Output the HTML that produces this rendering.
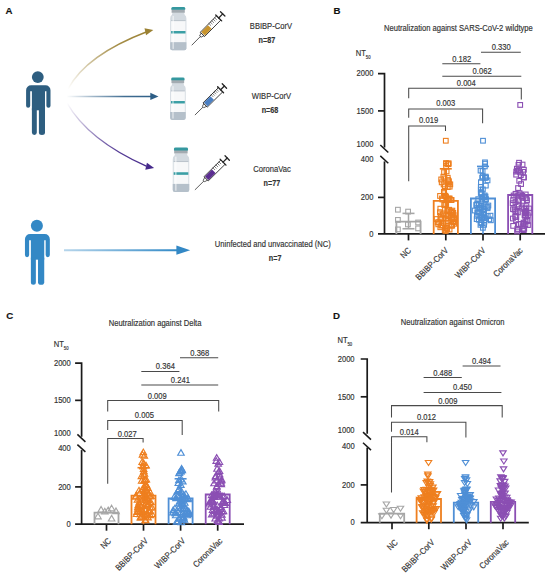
<!DOCTYPE html><html><head><meta charset="utf-8"><style>html,body{margin:0;padding:0;background:#fff;width:550px;height:576px;overflow:hidden}svg{display:block}text{font-family:"Liberation Sans",sans-serif;stroke:#444;stroke-width:0.16px;paint-order:stroke}</style></head><body>
<svg width="550" height="576" viewBox="0 0 550 576">
<rect width="550" height="576" fill="#ffffff"/>
<text transform="translate(5.40,14.40) scale(1,1.0)" font-size="9.7" text-anchor="start" font-weight="bold" fill="#111" >A</text>
<g fill="#2e5e80" transform="translate(38.3,71.3) scale(1.0)">
<circle cx="-0.5" cy="5.8" r="5.9"/>
<path d="M-12.2,22.6 V5 A5,5 0 0 1 -7.2,0 H7.2 A5,5 0 0 1 12.2,5 V20.6 A2.05,2.05 0 0 1 8.1,20.6 V6.0 H-8.1 V20.6 A2.05,2.05 0 0 1 -12.2,20.6 Z" transform="translate(0,13.9)"/>
<rect x="-6.4" y="15" width="13.1" height="24"/>
<path d="M-6.4,37 H-1.5 V61.2 A2.45,2.45 0 0 1 -6.4,61.2 Z"/>
<path d="M0.6,37 H6.7 V61.2 A3.05,2.5 0 0 1 0.6,61.2 Z"/>
</g>
<g fill="#3388c5" transform="translate(37.4,219.9) scale(1.02)">
<circle cx="-0.5" cy="5.8" r="5.9"/>
<path d="M-12.2,22.6 V5 A5,5 0 0 1 -7.2,0 H7.2 A5,5 0 0 1 12.2,5 V20.6 A2.05,2.05 0 0 1 8.1,20.6 V6.0 H-8.1 V20.6 A2.05,2.05 0 0 1 -12.2,20.6 Z" transform="translate(0,13.9)"/>
<rect x="-6.4" y="15" width="13.1" height="24"/>
<path d="M-6.4,37 H-1.5 V61.2 A2.45,2.45 0 0 1 -6.4,61.2 Z"/>
<path d="M0.6,37 H6.7 V61.2 A3.05,2.5 0 0 1 0.6,61.2 Z"/>
</g>
<defs><linearGradient id="g1" gradientUnits="userSpaceOnUse" x1="68" y1="89" x2="150" y2="30"><stop offset="0" stop-color="#9b8133" stop-opacity="0"/><stop offset="0.3" stop-color="#9b8133" stop-opacity="0.45"/><stop offset="0.65" stop-color="#9b8133" stop-opacity="0.9"/><stop offset="1" stop-color="#9b8133" stop-opacity="1"/></linearGradient></defs>
<path d="M68,89 Q86,55 146.8,31.7" stroke="url(#g1)" stroke-width="1.45" fill="none"/>
<path transform="translate(153.3,30.1) rotate(-12)" d="M0,0 L-8.2,-3.6 L-8.2,3.6 Z" fill="#9b8133"/>
<defs><linearGradient id="g2" gradientUnits="userSpaceOnUse" x1="66.5" y1="96" x2="155" y2="96"><stop offset="0" stop-color="#2d5e86" stop-opacity="0"/><stop offset="0.3" stop-color="#2d5e86" stop-opacity="0.45"/><stop offset="0.65" stop-color="#2d5e86" stop-opacity="0.9"/><stop offset="1" stop-color="#2d5e86" stop-opacity="1"/></linearGradient></defs>
<path d="M66.5,96.4 L151,96.4" stroke="url(#g2)" stroke-width="1.45" fill="none"/>
<path transform="translate(158.5,96.4) rotate(0)" d="M0,0 L-8.2,-3.6 L-8.2,3.6 Z" fill="#2d5e86"/>
<defs><linearGradient id="g3" gradientUnits="userSpaceOnUse" x1="67" y1="103" x2="152" y2="167"><stop offset="0" stop-color="#45298b" stop-opacity="0"/><stop offset="0.3" stop-color="#45298b" stop-opacity="0.45"/><stop offset="0.65" stop-color="#45298b" stop-opacity="0.9"/><stop offset="1" stop-color="#45298b" stop-opacity="1"/></linearGradient></defs>
<path d="M67,103 Q88,140 146.3,166.2" stroke="url(#g3)" stroke-width="1.45" fill="none"/>
<path transform="translate(154.1,168) rotate(13)" d="M0,0 L-8.2,-3.6 L-8.2,3.6 Z" fill="#45298b"/>
<defs><linearGradient id="g4" gradientUnits="userSpaceOnUse" x1="64" y1="0" x2="180" y2="0"><stop offset="0" stop-color="#2f88c6" stop-opacity="0.35"/><stop offset="1" stop-color="#2f88c6"/></linearGradient></defs>
<path d="M64,250.2 H178" stroke="url(#g4)" stroke-width="1.9" fill="none"/>
<path transform="translate(190.2,250.2) rotate(0)" d="M0,0 L-13.8,-4.6 L-13.8,4.6 Z" fill="#3388c5"/>
<g transform="translate(170.2,6.9) scale(1.0,1.0)">
<path d="M2.3,5.8 H13.9 L14.6,8.2 Q16.2,9.2 16.2,11.5 V41.3 Q16.2,43.35 14.2,43.35 H2 Q0,43.35 0,41.3 V11.5 Q0,9.2 1.6,8.2 Z" fill="#d3dae0"/>
<rect x="1.4" y="2.3" width="13.2" height="3.6" fill="#a3abb1"/>
<path d="M1.2,2.9 V1.4 Q1.2,0 2.8,0 H13.4 Q15,0 15,1.4 V2.9 Z" fill="#35989f"/>
<rect x="0.9" y="14.1" width="14.4" height="21.2" fill="#f7f8f9"/>
<rect x="0.9" y="13.3" width="14.4" height="0.9" fill="#b9c2ca"/>
<rect x="0.9" y="24.1" width="14.4" height="2.5" fill="#3b9fa5"/>
<path d="M0,35.4 H16.2 V41.3 Q16.2,43.35 14.2,43.35 H2 Q0,43.35 0,41.3 Z" fill="#b5c0ca"/>
<rect x="2.2" y="9" width="1.6" height="33" fill="#ffffff" opacity="0.5"/>
</g>
<g transform="translate(192,45) rotate(-45.37)" stroke="#262626" stroke-width="0.85" fill="none" stroke-linecap="round">
<line x1="0" y1="0" x2="12.24" y2="0" stroke-width="0.7"/>
<path d="M12.24,-1.1 L15.30,-2.0 L15.30,2.0 L12.24,1.1 Z" fill="#ffffff" stroke-width="0.7"/>
<rect x="15.30" y="-3.0" width="22.72" height="6.0" fill="#ffffff"/>
<rect x="15.80" y="-2.5" width="9.54" height="5.0" fill="#c9942c" stroke="none"/>
<line x1="27.11" y1="-3.0" x2="27.11" y2="-0.4" stroke-width="0.55"/>
<line x1="29.16" y1="-3.0" x2="29.16" y2="-0.4" stroke-width="0.55"/>
<line x1="31.20" y1="-3.0" x2="31.20" y2="-0.4" stroke-width="0.55"/>
<line x1="33.25" y1="-3.0" x2="33.25" y2="-0.4" stroke-width="0.55"/>
<line x1="35.29" y1="-3.0" x2="35.29" y2="-0.4" stroke-width="0.55"/>
<line x1="38.02" y1="-4.2" x2="38.02" y2="4.2" stroke-width="1.3"/>
<line x1="38.02" y1="0" x2="43.70" y2="0" stroke-width="1.3"/>
<line x1="43.70" y1="-3.1" x2="43.70" y2="3.1" stroke-width="1.3"/>
</g>
<g transform="translate(170.1,77.4) scale(0.963,0.98)">
<path d="M2.3,5.8 H13.9 L14.6,8.2 Q16.2,9.2 16.2,11.5 V41.3 Q16.2,43.35 14.2,43.35 H2 Q0,43.35 0,41.3 V11.5 Q0,9.2 1.6,8.2 Z" fill="#d3dae0"/>
<rect x="1.4" y="2.3" width="13.2" height="3.6" fill="#a3abb1"/>
<path d="M1.2,2.9 V1.4 Q1.2,0 2.8,0 H13.4 Q15,0 15,1.4 V2.9 Z" fill="#35989f"/>
<rect x="0.9" y="14.1" width="14.4" height="21.2" fill="#f7f8f9"/>
<rect x="0.9" y="13.3" width="14.4" height="0.9" fill="#b9c2ca"/>
<rect x="0.9" y="24.1" width="14.4" height="2.5" fill="#3b9fa5"/>
<path d="M0,35.4 H16.2 V41.3 Q16.2,43.35 14.2,43.35 H2 Q0,43.35 0,41.3 Z" fill="#b5c0ca"/>
<rect x="2.2" y="9" width="1.6" height="33" fill="#ffffff" opacity="0.5"/>
</g>
<g transform="translate(195.2,114.8) rotate(-44.60)" stroke="#262626" stroke-width="0.85" fill="none" stroke-linecap="round">
<line x1="0" y1="0" x2="11.48" y2="0" stroke-width="0.7"/>
<path d="M11.48,-1.1 L14.35,-2.0 L14.35,2.0 L11.48,1.1 Z" fill="#ffffff" stroke-width="0.7"/>
<rect x="14.35" y="-3.0" width="21.33" height="6.0" fill="#ffffff"/>
<rect x="14.85" y="-2.5" width="8.96" height="5.0" fill="#4b7fc2" stroke="none"/>
<line x1="25.44" y1="-3.0" x2="25.44" y2="-0.4" stroke-width="0.55"/>
<line x1="27.36" y1="-3.0" x2="27.36" y2="-0.4" stroke-width="0.55"/>
<line x1="29.28" y1="-3.0" x2="29.28" y2="-0.4" stroke-width="0.55"/>
<line x1="31.20" y1="-3.0" x2="31.20" y2="-0.4" stroke-width="0.55"/>
<line x1="33.12" y1="-3.0" x2="33.12" y2="-0.4" stroke-width="0.55"/>
<line x1="35.68" y1="-4.2" x2="35.68" y2="4.2" stroke-width="1.3"/>
<line x1="35.68" y1="0" x2="41.01" y2="0" stroke-width="1.3"/>
<line x1="41.01" y1="-3.1" x2="41.01" y2="3.1" stroke-width="1.3"/>
</g>
<g transform="translate(172.75,147.4) scale(1.018,1.031)">
<path d="M2.3,5.8 H13.9 L14.6,8.2 Q16.2,9.2 16.2,11.5 V41.3 Q16.2,43.35 14.2,43.35 H2 Q0,43.35 0,41.3 V11.5 Q0,9.2 1.6,8.2 Z" fill="#d3dae0"/>
<rect x="1.4" y="2.3" width="13.2" height="3.6" fill="#a3abb1"/>
<path d="M1.2,2.9 V1.4 Q1.2,0 2.8,0 H13.4 Q15,0 15,1.4 V2.9 Z" fill="#35989f"/>
<rect x="0.9" y="14.1" width="14.4" height="21.2" fill="#f7f8f9"/>
<rect x="0.9" y="13.3" width="14.4" height="0.9" fill="#b9c2ca"/>
<rect x="0.9" y="24.1" width="14.4" height="2.5" fill="#3b9fa5"/>
<path d="M0,35.4 H16.2 V41.3 Q16.2,43.35 14.2,43.35 H2 Q0,43.35 0,41.3 Z" fill="#b5c0ca"/>
<rect x="2.2" y="9" width="1.6" height="33" fill="#ffffff" opacity="0.5"/>
</g>
<g transform="translate(195.2,189.6) rotate(-44.64)" stroke="#262626" stroke-width="0.85" fill="none" stroke-linecap="round">
<line x1="0" y1="0" x2="12.59" y2="0" stroke-width="0.7"/>
<path d="M12.59,-1.1 L15.74,-2.0 L15.74,2.0 L12.59,1.1 Z" fill="#ffffff" stroke-width="0.7"/>
<rect x="15.74" y="-3.0" width="23.39" height="6.0" fill="#ffffff"/>
<rect x="16.24" y="-2.5" width="9.82" height="5.0" fill="#5b2d90" stroke="none"/>
<line x1="27.90" y1="-3.0" x2="27.90" y2="-0.4" stroke-width="0.55"/>
<line x1="30.01" y1="-3.0" x2="30.01" y2="-0.4" stroke-width="0.55"/>
<line x1="32.11" y1="-3.0" x2="32.11" y2="-0.4" stroke-width="0.55"/>
<line x1="34.22" y1="-3.0" x2="34.22" y2="-0.4" stroke-width="0.55"/>
<line x1="36.32" y1="-3.0" x2="36.32" y2="-0.4" stroke-width="0.55"/>
<line x1="39.13" y1="-4.2" x2="39.13" y2="4.2" stroke-width="1.3"/>
<line x1="39.13" y1="0" x2="44.97" y2="0" stroke-width="1.3"/>
<line x1="44.97" y1="-3.1" x2="44.97" y2="3.1" stroke-width="1.3"/>
</g>
<text transform="translate(270.90,29.00) scale(1,1.15)" font-size="7.6" text-anchor="middle" font-weight="normal" fill="#333333" >BBIBP-CorV</text>
<text transform="translate(266.90,43.20) scale(1,1.15)" font-size="7.2" text-anchor="middle" font-weight="bold" fill="#333333" >n=87</text>
<text transform="translate(271.40,98.70) scale(1,1.15)" font-size="7.6" text-anchor="middle" font-weight="normal" fill="#333333" >WIBP-CorV</text>
<text transform="translate(270.00,113.20) scale(1,1.15)" font-size="7.2" text-anchor="middle" font-weight="bold" fill="#333333" >n=68</text>
<text transform="translate(272.00,172.00) scale(1,1.15)" font-size="7.6" text-anchor="middle" font-weight="normal" fill="#333333" >CoronaVac</text>
<text transform="translate(271.90,186.20) scale(1,1.15)" font-size="7.2" text-anchor="middle" font-weight="bold" fill="#333333" >n=77</text>
<text transform="translate(272.80,247.30) scale(1,1.15)" font-size="7.6" text-anchor="middle" font-weight="normal" fill="#333333" >Uninfected and unvaccinated (NC)</text>
<text transform="translate(275.10,260.50) scale(1,1.15)" font-size="7.2" text-anchor="middle" font-weight="bold" fill="#333333" >n=7</text>
<text transform="translate(333.40,14.40) scale(1,1.0)" font-size="9.7" text-anchor="start" font-weight="bold" fill="#111" >B</text>
<text transform="translate(384.00,30.80) scale(1,1.15)" font-size="7.6" text-anchor="start" font-weight="normal" fill="#333333" >Neutralization against SARS-CoV-2 wildtype</text>
<text transform="translate(355.7,56.2) scale(1,1.15)" font-size="7.6" fill="#333333">NT<tspan font-size="4.2" dy="2.6">50</tspan></text>
<path d="M378.00,73.60 H384.50 V147.40" stroke="#1a1a1a" stroke-width="1.7" fill="none"/>
<line x1="378.00" y1="110.90" x2="384.50" y2="110.90" stroke="#1a1a1a" stroke-width="1.7" />
<line x1="384.50" y1="161.40" x2="384.50" y2="233.90" stroke="#1a1a1a" stroke-width="1.7" />
<line x1="380.30" y1="145.00" x2="388.30" y2="152.50" stroke="#1a1a1a" stroke-width="1.5" />
<line x1="380.30" y1="155.90" x2="388.30" y2="163.20" stroke="#1a1a1a" stroke-width="1.5" />
<line x1="378.00" y1="197.40" x2="384.50" y2="197.40" stroke="#1a1a1a" stroke-width="1.7" />
<line x1="378.00" y1="233.90" x2="545.00" y2="233.90" stroke="#1a1a1a" stroke-width="1.7" />
<line x1="408.50" y1="233.90" x2="408.50" y2="240.40" stroke="#1a1a1a" stroke-width="1.7" />
<line x1="445.80" y1="233.90" x2="445.80" y2="240.40" stroke="#1a1a1a" stroke-width="1.7" />
<line x1="483.00" y1="233.90" x2="483.00" y2="240.40" stroke="#1a1a1a" stroke-width="1.7" />
<line x1="520.20" y1="233.90" x2="520.20" y2="240.40" stroke="#1a1a1a" stroke-width="1.7" />
<text transform="translate(373.50,76.30) scale(1,1.15)" font-size="7.6" text-anchor="end" fill="#333333">2000</text>
<text transform="translate(373.50,113.60) scale(1,1.15)" font-size="7.6" text-anchor="end" fill="#333333">1500</text>
<text transform="translate(373.50,146.70) scale(1,1.15)" font-size="7.6" text-anchor="end" fill="#333333">1000</text>
<text transform="translate(373.50,162.40) scale(1,1.15)" font-size="7.6" text-anchor="end" fill="#333333">400</text>
<text transform="translate(373.50,200.10) scale(1,1.15)" font-size="7.6" text-anchor="end" fill="#333333">200</text>
<text transform="translate(373.50,236.60) scale(1,1.15)" font-size="7.6" text-anchor="end" fill="#333333">0</text>
<text transform="translate(411.60,251.00) rotate(-45) scale(1,1.15)" font-size="7.6" text-anchor="end" fill="#333333">NC</text>
<text transform="translate(448.90,251.00) rotate(-45) scale(1,1.15)" font-size="7.6" text-anchor="end" fill="#333333">BBIBP-CorV</text>
<text transform="translate(486.10,251.00) rotate(-45) scale(1,1.15)" font-size="7.6" text-anchor="end" fill="#333333">WIBP-CorV</text>
<text transform="translate(523.30,251.00) rotate(-45) scale(1,1.15)" font-size="7.6" text-anchor="end" fill="#333333">CoronaVac</text>
<path d="M481.00,52.30 H520.80" stroke="#4a4a4a" stroke-width="1.05" fill="none"/>
<text transform="translate(501.20,50.30) scale(1,1.15)" font-size="7.6" text-anchor="middle" fill="#333333">0.330</text>
<path d="M442.30,63.70 H480.40" stroke="#4a4a4a" stroke-width="1.05" fill="none"/>
<text transform="translate(461.75,61.70) scale(1,1.15)" font-size="7.6" text-anchor="middle" fill="#333333">0.182</text>
<path d="M442.30,76.30 H521.30" stroke="#4a4a4a" stroke-width="1.05" fill="none"/>
<text transform="translate(482.10,74.30) scale(1,1.15)" font-size="7.6" text-anchor="middle" fill="#333333">0.062</text>
<path d="M408.70,98.20 V88.20 H521.30 V99.40" stroke="#4a4a4a" stroke-width="1.05" fill="none"/>
<text transform="translate(466.30,86.20) scale(1,1.15)" font-size="7.6" text-anchor="middle" fill="#333333">0.004</text>
<path d="M408.70,117.70 V109.00 H482.60 V123.20" stroke="#4a4a4a" stroke-width="1.05" fill="none"/>
<text transform="translate(445.65,105.70) scale(1,1.15)" font-size="7.6" text-anchor="middle" fill="#333333">0.003</text>
<path d="M408.70,181.30 V125.90 H445.50 V130.90" stroke="#4a4a4a" stroke-width="1.05" fill="none"/>
<text transform="translate(428.60,122.90) scale(1,1.15)" font-size="7.6" text-anchor="middle" fill="#333333">0.019</text>
<rect x="395.55" y="207.35" width="4.70" height="4.70" fill="none" stroke="#a6a6a6" stroke-width="1.1"/>
<rect x="405.75" y="209.25" width="4.70" height="4.70" fill="none" stroke="#a6a6a6" stroke-width="1.1"/>
<rect x="395.55" y="217.55" width="4.70" height="4.70" fill="none" stroke="#a6a6a6" stroke-width="1.1"/>
<rect x="405.55" y="222.05" width="4.70" height="4.70" fill="none" stroke="#a6a6a6" stroke-width="1.1"/>
<rect x="415.75" y="220.15" width="4.70" height="4.70" fill="none" stroke="#a6a6a6" stroke-width="1.1"/>
<rect x="415.75" y="226.05" width="4.70" height="4.70" fill="none" stroke="#a6a6a6" stroke-width="1.1"/>
<rect x="395.55" y="227.05" width="4.70" height="4.70" fill="none" stroke="#a6a6a6" stroke-width="1.1"/>
<path d="M396.40,233.90 V221.60 H420.60 V233.90" stroke="#a6a6a6" stroke-width="1.8" fill="none"/>
<path d="M408.50,228.75 V213.40" stroke="#a6a6a6" stroke-width="1.5" fill="none"/>
<line x1="402.50" y1="213.40" x2="414.50" y2="213.40" stroke="#a6a6a6" stroke-width="1.6" />
<line x1="402.50" y1="228.75" x2="414.50" y2="228.75" stroke="#a6a6a6" stroke-width="1.6" />
<rect x="443.41" y="228.50" width="4.70" height="4.70" fill="none" stroke="#ee7f1f" stroke-width="1.1"/>
<rect x="442.37" y="228.04" width="4.70" height="4.70" fill="none" stroke="#ee7f1f" stroke-width="1.1"/>
<rect x="447.24" y="227.22" width="4.70" height="4.70" fill="none" stroke="#ee7f1f" stroke-width="1.1"/>
<rect x="444.88" y="226.81" width="4.70" height="4.70" fill="none" stroke="#ee7f1f" stroke-width="1.1"/>
<rect x="444.43" y="226.00" width="4.70" height="4.70" fill="none" stroke="#ee7f1f" stroke-width="1.1"/>
<rect x="444.08" y="225.58" width="4.70" height="4.70" fill="none" stroke="#ee7f1f" stroke-width="1.1"/>
<rect x="437.94" y="224.92" width="4.70" height="4.70" fill="none" stroke="#ee7f1f" stroke-width="1.1"/>
<rect x="449.13" y="223.34" width="4.70" height="4.70" fill="none" stroke="#ee7f1f" stroke-width="1.1"/>
<rect x="439.11" y="223.30" width="4.70" height="4.70" fill="none" stroke="#ee7f1f" stroke-width="1.1"/>
<rect x="449.85" y="223.25" width="4.70" height="4.70" fill="none" stroke="#ee7f1f" stroke-width="1.1"/>
<rect x="438.99" y="222.89" width="4.70" height="4.70" fill="none" stroke="#ee7f1f" stroke-width="1.1"/>
<rect x="448.99" y="222.28" width="4.70" height="4.70" fill="none" stroke="#ee7f1f" stroke-width="1.1"/>
<rect x="435.92" y="221.97" width="4.70" height="4.70" fill="none" stroke="#ee7f1f" stroke-width="1.1"/>
<rect x="451.70" y="221.44" width="4.70" height="4.70" fill="none" stroke="#ee7f1f" stroke-width="1.1"/>
<rect x="440.50" y="220.67" width="4.70" height="4.70" fill="none" stroke="#ee7f1f" stroke-width="1.1"/>
<rect x="443.40" y="220.28" width="4.70" height="4.70" fill="none" stroke="#ee7f1f" stroke-width="1.1"/>
<rect x="435.37" y="219.95" width="4.70" height="4.70" fill="none" stroke="#ee7f1f" stroke-width="1.1"/>
<rect x="436.86" y="219.73" width="4.70" height="4.70" fill="none" stroke="#ee7f1f" stroke-width="1.1"/>
<rect x="450.71" y="219.69" width="4.70" height="4.70" fill="none" stroke="#ee7f1f" stroke-width="1.1"/>
<rect x="451.32" y="219.47" width="4.70" height="4.70" fill="none" stroke="#ee7f1f" stroke-width="1.1"/>
<rect x="445.05" y="218.74" width="4.70" height="4.70" fill="none" stroke="#ee7f1f" stroke-width="1.1"/>
<rect x="450.24" y="216.75" width="4.70" height="4.70" fill="none" stroke="#ee7f1f" stroke-width="1.1"/>
<rect x="434.19" y="216.67" width="4.70" height="4.70" fill="none" stroke="#ee7f1f" stroke-width="1.1"/>
<rect x="438.81" y="216.65" width="4.70" height="4.70" fill="none" stroke="#ee7f1f" stroke-width="1.1"/>
<rect x="443.74" y="216.36" width="4.70" height="4.70" fill="none" stroke="#ee7f1f" stroke-width="1.1"/>
<rect x="451.88" y="215.91" width="4.70" height="4.70" fill="none" stroke="#ee7f1f" stroke-width="1.1"/>
<rect x="437.93" y="215.89" width="4.70" height="4.70" fill="none" stroke="#ee7f1f" stroke-width="1.1"/>
<rect x="451.08" y="215.81" width="4.70" height="4.70" fill="none" stroke="#ee7f1f" stroke-width="1.1"/>
<rect x="448.57" y="215.74" width="4.70" height="4.70" fill="none" stroke="#ee7f1f" stroke-width="1.1"/>
<rect x="449.74" y="214.79" width="4.70" height="4.70" fill="none" stroke="#ee7f1f" stroke-width="1.1"/>
<rect x="447.05" y="213.53" width="4.70" height="4.70" fill="none" stroke="#ee7f1f" stroke-width="1.1"/>
<rect x="445.73" y="213.26" width="4.70" height="4.70" fill="none" stroke="#ee7f1f" stroke-width="1.1"/>
<rect x="438.54" y="213.17" width="4.70" height="4.70" fill="none" stroke="#ee7f1f" stroke-width="1.1"/>
<rect x="443.87" y="213.11" width="4.70" height="4.70" fill="none" stroke="#ee7f1f" stroke-width="1.1"/>
<rect x="451.25" y="212.71" width="4.70" height="4.70" fill="none" stroke="#ee7f1f" stroke-width="1.1"/>
<rect x="440.29" y="212.12" width="4.70" height="4.70" fill="none" stroke="#ee7f1f" stroke-width="1.1"/>
<rect x="441.11" y="211.01" width="4.70" height="4.70" fill="none" stroke="#ee7f1f" stroke-width="1.1"/>
<rect x="450.94" y="210.56" width="4.70" height="4.70" fill="none" stroke="#ee7f1f" stroke-width="1.1"/>
<rect x="449.75" y="209.92" width="4.70" height="4.70" fill="none" stroke="#ee7f1f" stroke-width="1.1"/>
<rect x="437.59" y="209.80" width="4.70" height="4.70" fill="none" stroke="#ee7f1f" stroke-width="1.1"/>
<rect x="448.23" y="209.51" width="4.70" height="4.70" fill="none" stroke="#ee7f1f" stroke-width="1.1"/>
<rect x="448.79" y="209.37" width="4.70" height="4.70" fill="none" stroke="#ee7f1f" stroke-width="1.1"/>
<rect x="450.03" y="208.25" width="4.70" height="4.70" fill="none" stroke="#ee7f1f" stroke-width="1.1"/>
<rect x="444.89" y="208.16" width="4.70" height="4.70" fill="none" stroke="#ee7f1f" stroke-width="1.1"/>
<rect x="446.88" y="207.84" width="4.70" height="4.70" fill="none" stroke="#ee7f1f" stroke-width="1.1"/>
<rect x="446.79" y="207.40" width="4.70" height="4.70" fill="none" stroke="#ee7f1f" stroke-width="1.1"/>
<rect x="437.96" y="206.32" width="4.70" height="4.70" fill="none" stroke="#ee7f1f" stroke-width="1.1"/>
<rect x="441.84" y="202.58" width="4.70" height="4.70" fill="none" stroke="#ee7f1f" stroke-width="1.1"/>
<rect x="442.86" y="202.39" width="4.70" height="4.70" fill="none" stroke="#ee7f1f" stroke-width="1.1"/>
<rect x="443.85" y="201.68" width="4.70" height="4.70" fill="none" stroke="#ee7f1f" stroke-width="1.1"/>
<rect x="448.73" y="197.75" width="4.70" height="4.70" fill="none" stroke="#ee7f1f" stroke-width="1.1"/>
<rect x="449.26" y="197.63" width="4.70" height="4.70" fill="none" stroke="#ee7f1f" stroke-width="1.1"/>
<rect x="440.09" y="197.18" width="4.70" height="4.70" fill="none" stroke="#ee7f1f" stroke-width="1.1"/>
<rect x="446.04" y="196.82" width="4.70" height="4.70" fill="none" stroke="#ee7f1f" stroke-width="1.1"/>
<rect x="447.09" y="196.50" width="4.70" height="4.70" fill="none" stroke="#ee7f1f" stroke-width="1.1"/>
<rect x="445.89" y="196.34" width="4.70" height="4.70" fill="none" stroke="#ee7f1f" stroke-width="1.1"/>
<rect x="439.62" y="196.12" width="4.70" height="4.70" fill="none" stroke="#ee7f1f" stroke-width="1.1"/>
<rect x="447.18" y="196.04" width="4.70" height="4.70" fill="none" stroke="#ee7f1f" stroke-width="1.1"/>
<rect x="443.64" y="194.37" width="4.70" height="4.70" fill="none" stroke="#ee7f1f" stroke-width="1.1"/>
<rect x="437.68" y="193.58" width="4.70" height="4.70" fill="none" stroke="#ee7f1f" stroke-width="1.1"/>
<rect x="443.01" y="193.42" width="4.70" height="4.70" fill="none" stroke="#ee7f1f" stroke-width="1.1"/>
<rect x="442.08" y="193.33" width="4.70" height="4.70" fill="none" stroke="#ee7f1f" stroke-width="1.1"/>
<rect x="441.64" y="190.82" width="4.70" height="4.70" fill="none" stroke="#ee7f1f" stroke-width="1.1"/>
<rect x="441.80" y="189.77" width="4.70" height="4.70" fill="none" stroke="#ee7f1f" stroke-width="1.1"/>
<rect x="441.54" y="189.47" width="4.70" height="4.70" fill="none" stroke="#ee7f1f" stroke-width="1.1"/>
<rect x="445.43" y="184.73" width="4.70" height="4.70" fill="none" stroke="#ee7f1f" stroke-width="1.1"/>
<rect x="447.35" y="184.32" width="4.70" height="4.70" fill="none" stroke="#ee7f1f" stroke-width="1.1"/>
<rect x="442.42" y="183.80" width="4.70" height="4.70" fill="none" stroke="#ee7f1f" stroke-width="1.1"/>
<rect x="441.27" y="182.13" width="4.70" height="4.70" fill="none" stroke="#ee7f1f" stroke-width="1.1"/>
<rect x="447.93" y="181.97" width="4.70" height="4.70" fill="none" stroke="#ee7f1f" stroke-width="1.1"/>
<rect x="446.39" y="181.30" width="4.70" height="4.70" fill="none" stroke="#ee7f1f" stroke-width="1.1"/>
<rect x="439.35" y="180.02" width="4.70" height="4.70" fill="none" stroke="#ee7f1f" stroke-width="1.1"/>
<rect x="446.61" y="178.87" width="4.70" height="4.70" fill="none" stroke="#ee7f1f" stroke-width="1.1"/>
<rect x="445.80" y="177.68" width="4.70" height="4.70" fill="none" stroke="#ee7f1f" stroke-width="1.1"/>
<rect x="438.84" y="177.07" width="4.70" height="4.70" fill="none" stroke="#ee7f1f" stroke-width="1.1"/>
<rect x="442.15" y="176.04" width="4.70" height="4.70" fill="none" stroke="#ee7f1f" stroke-width="1.1"/>
<rect x="445.40" y="175.40" width="4.70" height="4.70" fill="none" stroke="#ee7f1f" stroke-width="1.1"/>
<rect x="441.02" y="174.32" width="4.70" height="4.70" fill="none" stroke="#ee7f1f" stroke-width="1.1"/>
<rect x="441.70" y="169.84" width="4.70" height="4.70" fill="none" stroke="#ee7f1f" stroke-width="1.1"/>
<rect x="444.27" y="169.08" width="4.70" height="4.70" fill="none" stroke="#ee7f1f" stroke-width="1.1"/>
<rect x="443.77" y="163.69" width="4.70" height="4.70" fill="none" stroke="#ee7f1f" stroke-width="1.1"/>
<rect x="446.19" y="161.84" width="4.70" height="4.70" fill="none" stroke="#ee7f1f" stroke-width="1.1"/>
<rect x="445.77" y="161.73" width="4.70" height="4.70" fill="none" stroke="#ee7f1f" stroke-width="1.1"/>
<rect x="443.83" y="161.29" width="4.70" height="4.70" fill="none" stroke="#ee7f1f" stroke-width="1.1"/>
<rect x="446.28" y="160.88" width="4.70" height="4.70" fill="none" stroke="#ee7f1f" stroke-width="1.1"/>
<rect x="443.64" y="160.74" width="4.70" height="4.70" fill="none" stroke="#ee7f1f" stroke-width="1.1"/>
<rect x="443.45" y="138.39" width="4.70" height="4.70" fill="none" stroke="#ee7f1f" stroke-width="1.1"/>
<path d="M433.70,233.90 V200.80 H457.90 V233.90" stroke="#ee7f1f" stroke-width="1.8" fill="none"/>
<path d="M445.80,233.90 V168.80" stroke="#ee7f1f" stroke-width="1.5" fill="none"/>
<line x1="439.80" y1="168.80" x2="451.80" y2="168.80" stroke="#ee7f1f" stroke-width="1.6" />
<rect x="480.54" y="225.45" width="4.70" height="4.70" fill="none" stroke="#4f8fd6" stroke-width="1.1"/>
<rect x="481.77" y="222.47" width="4.70" height="4.70" fill="none" stroke="#4f8fd6" stroke-width="1.1"/>
<rect x="478.11" y="222.46" width="4.70" height="4.70" fill="none" stroke="#4f8fd6" stroke-width="1.1"/>
<rect x="478.92" y="220.88" width="4.70" height="4.70" fill="none" stroke="#4f8fd6" stroke-width="1.1"/>
<rect x="478.99" y="219.96" width="4.70" height="4.70" fill="none" stroke="#4f8fd6" stroke-width="1.1"/>
<rect x="482.04" y="219.32" width="4.70" height="4.70" fill="none" stroke="#4f8fd6" stroke-width="1.1"/>
<rect x="488.48" y="217.95" width="4.70" height="4.70" fill="none" stroke="#4f8fd6" stroke-width="1.1"/>
<rect x="476.45" y="217.38" width="4.70" height="4.70" fill="none" stroke="#4f8fd6" stroke-width="1.1"/>
<rect x="486.79" y="217.00" width="4.70" height="4.70" fill="none" stroke="#4f8fd6" stroke-width="1.1"/>
<rect x="474.33" y="216.79" width="4.70" height="4.70" fill="none" stroke="#4f8fd6" stroke-width="1.1"/>
<rect x="482.64" y="215.85" width="4.70" height="4.70" fill="none" stroke="#4f8fd6" stroke-width="1.1"/>
<rect x="481.43" y="215.81" width="4.70" height="4.70" fill="none" stroke="#4f8fd6" stroke-width="1.1"/>
<rect x="479.76" y="215.62" width="4.70" height="4.70" fill="none" stroke="#4f8fd6" stroke-width="1.1"/>
<rect x="480.22" y="215.37" width="4.70" height="4.70" fill="none" stroke="#4f8fd6" stroke-width="1.1"/>
<rect x="478.07" y="214.55" width="4.70" height="4.70" fill="none" stroke="#4f8fd6" stroke-width="1.1"/>
<rect x="485.36" y="213.67" width="4.70" height="4.70" fill="none" stroke="#4f8fd6" stroke-width="1.1"/>
<rect x="474.55" y="213.44" width="4.70" height="4.70" fill="none" stroke="#4f8fd6" stroke-width="1.1"/>
<rect x="488.15" y="213.34" width="4.70" height="4.70" fill="none" stroke="#4f8fd6" stroke-width="1.1"/>
<rect x="478.96" y="213.10" width="4.70" height="4.70" fill="none" stroke="#4f8fd6" stroke-width="1.1"/>
<rect x="481.54" y="212.54" width="4.70" height="4.70" fill="none" stroke="#4f8fd6" stroke-width="1.1"/>
<rect x="481.59" y="211.72" width="4.70" height="4.70" fill="none" stroke="#4f8fd6" stroke-width="1.1"/>
<rect x="475.12" y="210.41" width="4.70" height="4.70" fill="none" stroke="#4f8fd6" stroke-width="1.1"/>
<rect x="475.97" y="209.82" width="4.70" height="4.70" fill="none" stroke="#4f8fd6" stroke-width="1.1"/>
<rect x="481.56" y="209.63" width="4.70" height="4.70" fill="none" stroke="#4f8fd6" stroke-width="1.1"/>
<rect x="472.32" y="208.19" width="4.70" height="4.70" fill="none" stroke="#4f8fd6" stroke-width="1.1"/>
<rect x="475.19" y="207.12" width="4.70" height="4.70" fill="none" stroke="#4f8fd6" stroke-width="1.1"/>
<rect x="481.50" y="206.66" width="4.70" height="4.70" fill="none" stroke="#4f8fd6" stroke-width="1.1"/>
<rect x="477.96" y="206.32" width="4.70" height="4.70" fill="none" stroke="#4f8fd6" stroke-width="1.1"/>
<rect x="485.25" y="205.93" width="4.70" height="4.70" fill="none" stroke="#4f8fd6" stroke-width="1.1"/>
<rect x="477.81" y="205.73" width="4.70" height="4.70" fill="none" stroke="#4f8fd6" stroke-width="1.1"/>
<rect x="477.12" y="205.36" width="4.70" height="4.70" fill="none" stroke="#4f8fd6" stroke-width="1.1"/>
<rect x="479.25" y="204.95" width="4.70" height="4.70" fill="none" stroke="#4f8fd6" stroke-width="1.1"/>
<rect x="485.22" y="204.63" width="4.70" height="4.70" fill="none" stroke="#4f8fd6" stroke-width="1.1"/>
<rect x="483.29" y="203.99" width="4.70" height="4.70" fill="none" stroke="#4f8fd6" stroke-width="1.1"/>
<rect x="479.20" y="203.47" width="4.70" height="4.70" fill="none" stroke="#4f8fd6" stroke-width="1.1"/>
<rect x="486.01" y="203.17" width="4.70" height="4.70" fill="none" stroke="#4f8fd6" stroke-width="1.1"/>
<rect x="474.09" y="202.74" width="4.70" height="4.70" fill="none" stroke="#4f8fd6" stroke-width="1.1"/>
<rect x="476.60" y="202.71" width="4.70" height="4.70" fill="none" stroke="#4f8fd6" stroke-width="1.1"/>
<rect x="474.09" y="202.38" width="4.70" height="4.70" fill="none" stroke="#4f8fd6" stroke-width="1.1"/>
<rect x="474.87" y="201.04" width="4.70" height="4.70" fill="none" stroke="#4f8fd6" stroke-width="1.1"/>
<rect x="483.15" y="197.68" width="4.70" height="4.70" fill="none" stroke="#4f8fd6" stroke-width="1.1"/>
<rect x="483.63" y="196.82" width="4.70" height="4.70" fill="none" stroke="#4f8fd6" stroke-width="1.1"/>
<rect x="475.90" y="196.82" width="4.70" height="4.70" fill="none" stroke="#4f8fd6" stroke-width="1.1"/>
<rect x="479.72" y="196.47" width="4.70" height="4.70" fill="none" stroke="#4f8fd6" stroke-width="1.1"/>
<rect x="481.81" y="195.23" width="4.70" height="4.70" fill="none" stroke="#4f8fd6" stroke-width="1.1"/>
<rect x="482.39" y="194.74" width="4.70" height="4.70" fill="none" stroke="#4f8fd6" stroke-width="1.1"/>
<rect x="479.32" y="194.67" width="4.70" height="4.70" fill="none" stroke="#4f8fd6" stroke-width="1.1"/>
<rect x="483.16" y="194.18" width="4.70" height="4.70" fill="none" stroke="#4f8fd6" stroke-width="1.1"/>
<rect x="482.31" y="193.10" width="4.70" height="4.70" fill="none" stroke="#4f8fd6" stroke-width="1.1"/>
<rect x="479.27" y="190.79" width="4.70" height="4.70" fill="none" stroke="#4f8fd6" stroke-width="1.1"/>
<rect x="478.44" y="190.66" width="4.70" height="4.70" fill="none" stroke="#4f8fd6" stroke-width="1.1"/>
<rect x="478.47" y="187.25" width="4.70" height="4.70" fill="none" stroke="#4f8fd6" stroke-width="1.1"/>
<rect x="480.52" y="187.09" width="4.70" height="4.70" fill="none" stroke="#4f8fd6" stroke-width="1.1"/>
<rect x="478.46" y="184.60" width="4.70" height="4.70" fill="none" stroke="#4f8fd6" stroke-width="1.1"/>
<rect x="483.47" y="183.24" width="4.70" height="4.70" fill="none" stroke="#4f8fd6" stroke-width="1.1"/>
<rect x="478.57" y="179.83" width="4.70" height="4.70" fill="none" stroke="#4f8fd6" stroke-width="1.1"/>
<rect x="485.18" y="178.00" width="4.70" height="4.70" fill="none" stroke="#4f8fd6" stroke-width="1.1"/>
<rect x="482.60" y="175.57" width="4.70" height="4.70" fill="none" stroke="#4f8fd6" stroke-width="1.1"/>
<rect x="479.82" y="175.40" width="4.70" height="4.70" fill="none" stroke="#4f8fd6" stroke-width="1.1"/>
<rect x="483.75" y="175.18" width="4.70" height="4.70" fill="none" stroke="#4f8fd6" stroke-width="1.1"/>
<rect x="483.31" y="174.27" width="4.70" height="4.70" fill="none" stroke="#4f8fd6" stroke-width="1.1"/>
<rect x="480.43" y="174.10" width="4.70" height="4.70" fill="none" stroke="#4f8fd6" stroke-width="1.1"/>
<rect x="480.27" y="168.63" width="4.70" height="4.70" fill="none" stroke="#4f8fd6" stroke-width="1.1"/>
<rect x="478.21" y="168.23" width="4.70" height="4.70" fill="none" stroke="#4f8fd6" stroke-width="1.1"/>
<rect x="482.47" y="164.08" width="4.70" height="4.70" fill="none" stroke="#4f8fd6" stroke-width="1.1"/>
<rect x="482.78" y="161.29" width="4.70" height="4.70" fill="none" stroke="#4f8fd6" stroke-width="1.1"/>
<rect x="482.62" y="160.01" width="4.70" height="4.70" fill="none" stroke="#4f8fd6" stroke-width="1.1"/>
<rect x="480.65" y="138.39" width="4.70" height="4.70" fill="none" stroke="#4f8fd6" stroke-width="1.1"/>
<path d="M470.90,233.90 V198.50 H495.10 V233.90" stroke="#4f8fd6" stroke-width="1.8" fill="none"/>
<path d="M483.00,233.90 V166.40" stroke="#4f8fd6" stroke-width="1.5" fill="none"/>
<line x1="477.00" y1="166.40" x2="489.00" y2="166.40" stroke="#4f8fd6" stroke-width="1.6" />
<rect x="514.80" y="229.08" width="4.70" height="4.70" fill="none" stroke="#8b4fb3" stroke-width="1.1"/>
<rect x="521.43" y="227.75" width="4.70" height="4.70" fill="none" stroke="#8b4fb3" stroke-width="1.1"/>
<rect x="515.57" y="227.40" width="4.70" height="4.70" fill="none" stroke="#8b4fb3" stroke-width="1.1"/>
<rect x="520.61" y="226.72" width="4.70" height="4.70" fill="none" stroke="#8b4fb3" stroke-width="1.1"/>
<rect x="515.03" y="226.60" width="4.70" height="4.70" fill="none" stroke="#8b4fb3" stroke-width="1.1"/>
<rect x="521.89" y="226.27" width="4.70" height="4.70" fill="none" stroke="#8b4fb3" stroke-width="1.1"/>
<rect x="520.18" y="223.92" width="4.70" height="4.70" fill="none" stroke="#8b4fb3" stroke-width="1.1"/>
<rect x="510.78" y="223.54" width="4.70" height="4.70" fill="none" stroke="#8b4fb3" stroke-width="1.1"/>
<rect x="525.60" y="222.72" width="4.70" height="4.70" fill="none" stroke="#8b4fb3" stroke-width="1.1"/>
<rect x="523.10" y="221.89" width="4.70" height="4.70" fill="none" stroke="#8b4fb3" stroke-width="1.1"/>
<rect x="516.39" y="221.74" width="4.70" height="4.70" fill="none" stroke="#8b4fb3" stroke-width="1.1"/>
<rect x="518.42" y="221.58" width="4.70" height="4.70" fill="none" stroke="#8b4fb3" stroke-width="1.1"/>
<rect x="521.42" y="221.31" width="4.70" height="4.70" fill="none" stroke="#8b4fb3" stroke-width="1.1"/>
<rect x="521.22" y="220.27" width="4.70" height="4.70" fill="none" stroke="#8b4fb3" stroke-width="1.1"/>
<rect x="523.08" y="219.19" width="4.70" height="4.70" fill="none" stroke="#8b4fb3" stroke-width="1.1"/>
<rect x="525.38" y="218.56" width="4.70" height="4.70" fill="none" stroke="#8b4fb3" stroke-width="1.1"/>
<rect x="524.47" y="218.35" width="4.70" height="4.70" fill="none" stroke="#8b4fb3" stroke-width="1.1"/>
<rect x="513.62" y="217.90" width="4.70" height="4.70" fill="none" stroke="#8b4fb3" stroke-width="1.1"/>
<rect x="510.51" y="216.15" width="4.70" height="4.70" fill="none" stroke="#8b4fb3" stroke-width="1.1"/>
<rect x="513.97" y="214.63" width="4.70" height="4.70" fill="none" stroke="#8b4fb3" stroke-width="1.1"/>
<rect x="512.78" y="214.49" width="4.70" height="4.70" fill="none" stroke="#8b4fb3" stroke-width="1.1"/>
<rect x="522.50" y="213.36" width="4.70" height="4.70" fill="none" stroke="#8b4fb3" stroke-width="1.1"/>
<rect x="522.21" y="212.86" width="4.70" height="4.70" fill="none" stroke="#8b4fb3" stroke-width="1.1"/>
<rect x="525.53" y="212.84" width="4.70" height="4.70" fill="none" stroke="#8b4fb3" stroke-width="1.1"/>
<rect x="523.88" y="212.65" width="4.70" height="4.70" fill="none" stroke="#8b4fb3" stroke-width="1.1"/>
<rect x="523.18" y="210.88" width="4.70" height="4.70" fill="none" stroke="#8b4fb3" stroke-width="1.1"/>
<rect x="527.30" y="210.33" width="4.70" height="4.70" fill="none" stroke="#8b4fb3" stroke-width="1.1"/>
<rect x="522.50" y="210.12" width="4.70" height="4.70" fill="none" stroke="#8b4fb3" stroke-width="1.1"/>
<rect x="515.58" y="210.02" width="4.70" height="4.70" fill="none" stroke="#8b4fb3" stroke-width="1.1"/>
<rect x="523.54" y="209.77" width="4.70" height="4.70" fill="none" stroke="#8b4fb3" stroke-width="1.1"/>
<rect x="524.05" y="209.54" width="4.70" height="4.70" fill="none" stroke="#8b4fb3" stroke-width="1.1"/>
<rect x="514.09" y="209.24" width="4.70" height="4.70" fill="none" stroke="#8b4fb3" stroke-width="1.1"/>
<rect x="512.98" y="208.84" width="4.70" height="4.70" fill="none" stroke="#8b4fb3" stroke-width="1.1"/>
<rect x="512.29" y="207.22" width="4.70" height="4.70" fill="none" stroke="#8b4fb3" stroke-width="1.1"/>
<rect x="510.63" y="206.87" width="4.70" height="4.70" fill="none" stroke="#8b4fb3" stroke-width="1.1"/>
<rect x="521.74" y="206.70" width="4.70" height="4.70" fill="none" stroke="#8b4fb3" stroke-width="1.1"/>
<rect x="526.64" y="206.13" width="4.70" height="4.70" fill="none" stroke="#8b4fb3" stroke-width="1.1"/>
<rect x="523.23" y="205.87" width="4.70" height="4.70" fill="none" stroke="#8b4fb3" stroke-width="1.1"/>
<rect x="519.28" y="205.08" width="4.70" height="4.70" fill="none" stroke="#8b4fb3" stroke-width="1.1"/>
<rect x="524.10" y="203.77" width="4.70" height="4.70" fill="none" stroke="#8b4fb3" stroke-width="1.1"/>
<rect x="516.44" y="203.76" width="4.70" height="4.70" fill="none" stroke="#8b4fb3" stroke-width="1.1"/>
<rect x="515.90" y="202.15" width="4.70" height="4.70" fill="none" stroke="#8b4fb3" stroke-width="1.1"/>
<rect x="510.32" y="200.83" width="4.70" height="4.70" fill="none" stroke="#8b4fb3" stroke-width="1.1"/>
<rect x="513.08" y="199.67" width="4.70" height="4.70" fill="none" stroke="#8b4fb3" stroke-width="1.1"/>
<rect x="520.57" y="198.54" width="4.70" height="4.70" fill="none" stroke="#8b4fb3" stroke-width="1.1"/>
<rect x="516.54" y="198.30" width="4.70" height="4.70" fill="none" stroke="#8b4fb3" stroke-width="1.1"/>
<rect x="524.64" y="197.88" width="4.70" height="4.70" fill="none" stroke="#8b4fb3" stroke-width="1.1"/>
<rect x="510.75" y="197.86" width="4.70" height="4.70" fill="none" stroke="#8b4fb3" stroke-width="1.1"/>
<rect x="524.09" y="195.97" width="4.70" height="4.70" fill="none" stroke="#8b4fb3" stroke-width="1.1"/>
<rect x="523.13" y="195.51" width="4.70" height="4.70" fill="none" stroke="#8b4fb3" stroke-width="1.1"/>
<rect x="519.95" y="195.50" width="4.70" height="4.70" fill="none" stroke="#8b4fb3" stroke-width="1.1"/>
<rect x="519.78" y="194.36" width="4.70" height="4.70" fill="none" stroke="#8b4fb3" stroke-width="1.1"/>
<rect x="519.99" y="193.49" width="4.70" height="4.70" fill="none" stroke="#8b4fb3" stroke-width="1.1"/>
<rect x="511.25" y="193.13" width="4.70" height="4.70" fill="none" stroke="#8b4fb3" stroke-width="1.1"/>
<rect x="516.30" y="192.96" width="4.70" height="4.70" fill="none" stroke="#8b4fb3" stroke-width="1.1"/>
<rect x="523.41" y="192.10" width="4.70" height="4.70" fill="none" stroke="#8b4fb3" stroke-width="1.1"/>
<rect x="517.92" y="192.02" width="4.70" height="4.70" fill="none" stroke="#8b4fb3" stroke-width="1.1"/>
<rect x="513.18" y="191.45" width="4.70" height="4.70" fill="none" stroke="#8b4fb3" stroke-width="1.1"/>
<rect x="517.18" y="190.80" width="4.70" height="4.70" fill="none" stroke="#8b4fb3" stroke-width="1.1"/>
<rect x="515.71" y="185.72" width="4.70" height="4.70" fill="none" stroke="#8b4fb3" stroke-width="1.1"/>
<rect x="518.75" y="181.70" width="4.70" height="4.70" fill="none" stroke="#8b4fb3" stroke-width="1.1"/>
<rect x="516.88" y="178.42" width="4.70" height="4.70" fill="none" stroke="#8b4fb3" stroke-width="1.1"/>
<rect x="521.61" y="175.08" width="4.70" height="4.70" fill="none" stroke="#8b4fb3" stroke-width="1.1"/>
<rect x="521.23" y="175.03" width="4.70" height="4.70" fill="none" stroke="#8b4fb3" stroke-width="1.1"/>
<rect x="518.47" y="172.82" width="4.70" height="4.70" fill="none" stroke="#8b4fb3" stroke-width="1.1"/>
<rect x="513.81" y="172.32" width="4.70" height="4.70" fill="none" stroke="#8b4fb3" stroke-width="1.1"/>
<rect x="517.83" y="170.04" width="4.70" height="4.70" fill="none" stroke="#8b4fb3" stroke-width="1.1"/>
<rect x="520.75" y="169.47" width="4.70" height="4.70" fill="none" stroke="#8b4fb3" stroke-width="1.1"/>
<rect x="513.89" y="169.29" width="4.70" height="4.70" fill="none" stroke="#8b4fb3" stroke-width="1.1"/>
<rect x="515.37" y="168.51" width="4.70" height="4.70" fill="none" stroke="#8b4fb3" stroke-width="1.1"/>
<rect x="516.53" y="167.97" width="4.70" height="4.70" fill="none" stroke="#8b4fb3" stroke-width="1.1"/>
<rect x="521.54" y="167.41" width="4.70" height="4.70" fill="none" stroke="#8b4fb3" stroke-width="1.1"/>
<rect x="514.53" y="166.36" width="4.70" height="4.70" fill="none" stroke="#8b4fb3" stroke-width="1.1"/>
<rect x="516.13" y="162.54" width="4.70" height="4.70" fill="none" stroke="#8b4fb3" stroke-width="1.1"/>
<rect x="520.21" y="162.20" width="4.70" height="4.70" fill="none" stroke="#8b4fb3" stroke-width="1.1"/>
<rect x="516.70" y="160.38" width="4.70" height="4.70" fill="none" stroke="#8b4fb3" stroke-width="1.1"/>
<rect x="517.85" y="102.58" width="4.70" height="4.70" fill="none" stroke="#8b4fb3" stroke-width="1.1"/>
<path d="M508.10,233.90 V195.00 H532.30 V233.90" stroke="#8b4fb3" stroke-width="1.8" fill="none"/>
<text transform="translate(6.20,319.10) scale(1,1.0)" font-size="9.7" text-anchor="start" font-weight="bold" fill="#111" >C</text>
<text transform="translate(108.70,325.60) scale(1,1.15)" font-size="7.6" text-anchor="start" font-weight="normal" fill="#333333" >Neutralization against Delta</text>
<text transform="translate(53.7,346.7) scale(1,1.15)" font-size="7.6" fill="#333333">NT<tspan font-size="4.2" dy="2.6">50</tspan></text>
<path d="M75.10,363.10 H81.60 V436.80" stroke="#1a1a1a" stroke-width="1.7" fill="none"/>
<line x1="75.10" y1="400.35" x2="81.60" y2="400.35" stroke="#1a1a1a" stroke-width="1.7" />
<line x1="81.60" y1="450.10" x2="81.60" y2="524.20" stroke="#1a1a1a" stroke-width="1.7" />
<line x1="77.40" y1="434.40" x2="85.40" y2="441.90" stroke="#1a1a1a" stroke-width="1.5" />
<line x1="77.40" y1="444.60" x2="85.40" y2="451.90" stroke="#1a1a1a" stroke-width="1.5" />
<line x1="75.10" y1="486.90" x2="81.60" y2="486.90" stroke="#1a1a1a" stroke-width="1.7" />
<line x1="75.10" y1="524.20" x2="244.00" y2="524.20" stroke="#1a1a1a" stroke-width="1.7" />
<line x1="106.50" y1="524.20" x2="106.50" y2="530.70" stroke="#1a1a1a" stroke-width="1.7" />
<line x1="143.50" y1="524.20" x2="143.50" y2="530.70" stroke="#1a1a1a" stroke-width="1.7" />
<line x1="180.60" y1="524.20" x2="180.60" y2="530.70" stroke="#1a1a1a" stroke-width="1.7" />
<line x1="217.70" y1="524.20" x2="217.70" y2="530.70" stroke="#1a1a1a" stroke-width="1.7" />
<text transform="translate(70.80,365.80) scale(1,1.15)" font-size="7.6" text-anchor="end" fill="#333333">2000</text>
<text transform="translate(70.80,403.05) scale(1,1.15)" font-size="7.6" text-anchor="end" fill="#333333">1500</text>
<text transform="translate(70.80,436.10) scale(1,1.15)" font-size="7.6" text-anchor="end" fill="#333333">1000</text>
<text transform="translate(70.80,451.10) scale(1,1.15)" font-size="7.6" text-anchor="end" fill="#333333">400</text>
<text transform="translate(70.80,489.60) scale(1,1.15)" font-size="7.6" text-anchor="end" fill="#333333">200</text>
<text transform="translate(70.80,526.90) scale(1,1.15)" font-size="7.6" text-anchor="end" fill="#333333">0</text>
<text transform="translate(111.70,541.50) rotate(-45) scale(1,1.15)" font-size="7.6" text-anchor="end" fill="#333333">NC</text>
<text transform="translate(148.70,541.50) rotate(-45) scale(1,1.15)" font-size="7.6" text-anchor="end" fill="#333333">BBIBP-CorV</text>
<text transform="translate(185.80,541.50) rotate(-45) scale(1,1.15)" font-size="7.6" text-anchor="end" fill="#333333">WIBP-CorV</text>
<text transform="translate(222.90,541.50) rotate(-45) scale(1,1.15)" font-size="7.6" text-anchor="end" fill="#333333">CoronaVac</text>
<path d="M180.00,357.70 H218.20" stroke="#4a4a4a" stroke-width="1.05" fill="none"/>
<text transform="translate(199.80,355.70) scale(1,1.15)" font-size="7.6" text-anchor="middle" fill="#333333">0.368</text>
<path d="M141.30,371.40 H179.40" stroke="#4a4a4a" stroke-width="1.05" fill="none"/>
<text transform="translate(165.35,369.40) scale(1,1.15)" font-size="7.6" text-anchor="middle" fill="#333333">0.364</text>
<path d="M141.30,385.00 H218.20" stroke="#4a4a4a" stroke-width="1.05" fill="none"/>
<text transform="translate(180.35,383.00) scale(1,1.15)" font-size="7.6" text-anchor="middle" fill="#333333">0.241</text>
<path d="M107.70,411.50 V400.50 H218.70 V411.50" stroke="#4a4a4a" stroke-width="1.05" fill="none"/>
<text transform="translate(157.20,398.50) scale(1,1.15)" font-size="7.6" text-anchor="middle" fill="#333333">0.009</text>
<path d="M107.70,430.00 V420.40 H182.20 V434.90" stroke="#4a4a4a" stroke-width="1.05" fill="none"/>
<text transform="translate(144.35,418.40) scale(1,1.15)" font-size="7.6" text-anchor="middle" fill="#333333">0.005</text>
<path d="M107.70,483.80 V438.50 H143.10 V442.50" stroke="#4a4a4a" stroke-width="1.05" fill="none"/>
<text transform="translate(127.20,436.50) scale(1,1.15)" font-size="7.6" text-anchor="middle" fill="#333333">0.027</text>
<path d="M98.00,513.20 L101.25,518.80 L94.75,518.80 Z" fill="none" stroke="#a6a6a6" stroke-width="1.15" stroke-linejoin="miter"/>
<path d="M101.10,506.50 L104.35,512.10 L97.85,512.10 Z" fill="none" stroke="#a6a6a6" stroke-width="1.15" stroke-linejoin="miter"/>
<path d="M104.80,508.30 L108.05,513.90 L101.55,513.90 Z" fill="none" stroke="#a6a6a6" stroke-width="1.15" stroke-linejoin="miter"/>
<path d="M108.20,507.10 L111.45,512.70 L104.95,512.70 Z" fill="none" stroke="#a6a6a6" stroke-width="1.15" stroke-linejoin="miter"/>
<path d="M111.60,505.20 L114.85,510.80 L108.35,510.80 Z" fill="none" stroke="#a6a6a6" stroke-width="1.15" stroke-linejoin="miter"/>
<path d="M116.00,508.00 L119.25,513.60 L112.75,513.60 Z" fill="none" stroke="#a6a6a6" stroke-width="1.15" stroke-linejoin="miter"/>
<path d="M111.60,515.40 L114.85,521.00 L108.35,521.00 Z" fill="none" stroke="#a6a6a6" stroke-width="1.15" stroke-linejoin="miter"/>
<path d="M94.50,524.20 V512.70 H118.50 V524.20" stroke="#a6a6a6" stroke-width="1.8" fill="none"/>
<path d="M145.24,517.16 L148.49,522.76 L141.99,522.76 Z" fill="none" stroke="#ee7f1f" stroke-width="1.15" stroke-linejoin="miter"/>
<path d="M145.56,516.63 L148.81,522.23 L142.31,522.23 Z" fill="none" stroke="#ee7f1f" stroke-width="1.15" stroke-linejoin="miter"/>
<path d="M140.44,514.67 L143.69,520.27 L137.19,520.27 Z" fill="none" stroke="#ee7f1f" stroke-width="1.15" stroke-linejoin="miter"/>
<path d="M148.06,514.31 L151.31,519.91 L144.81,519.91 Z" fill="none" stroke="#ee7f1f" stroke-width="1.15" stroke-linejoin="miter"/>
<path d="M140.66,513.82 L143.91,519.42 L137.41,519.42 Z" fill="none" stroke="#ee7f1f" stroke-width="1.15" stroke-linejoin="miter"/>
<path d="M145.76,513.54 L149.01,519.14 L142.51,519.14 Z" fill="none" stroke="#ee7f1f" stroke-width="1.15" stroke-linejoin="miter"/>
<path d="M141.69,512.59 L144.94,518.19 L138.44,518.19 Z" fill="none" stroke="#ee7f1f" stroke-width="1.15" stroke-linejoin="miter"/>
<path d="M150.23,511.95 L153.48,517.55 L146.98,517.55 Z" fill="none" stroke="#ee7f1f" stroke-width="1.15" stroke-linejoin="miter"/>
<path d="M139.94,511.13 L143.19,516.73 L136.69,516.73 Z" fill="none" stroke="#ee7f1f" stroke-width="1.15" stroke-linejoin="miter"/>
<path d="M152.05,510.95 L155.30,516.55 L148.80,516.55 Z" fill="none" stroke="#ee7f1f" stroke-width="1.15" stroke-linejoin="miter"/>
<path d="M136.55,510.87 L139.80,516.47 L133.30,516.47 Z" fill="none" stroke="#ee7f1f" stroke-width="1.15" stroke-linejoin="miter"/>
<path d="M146.93,510.52 L150.18,516.12 L143.68,516.12 Z" fill="none" stroke="#ee7f1f" stroke-width="1.15" stroke-linejoin="miter"/>
<path d="M147.37,510.25 L150.62,515.85 L144.12,515.85 Z" fill="none" stroke="#ee7f1f" stroke-width="1.15" stroke-linejoin="miter"/>
<path d="M143.04,508.88 L146.29,514.48 L139.79,514.48 Z" fill="none" stroke="#ee7f1f" stroke-width="1.15" stroke-linejoin="miter"/>
<path d="M137.01,508.72 L140.26,514.32 L133.76,514.32 Z" fill="none" stroke="#ee7f1f" stroke-width="1.15" stroke-linejoin="miter"/>
<path d="M139.56,508.61 L142.81,514.21 L136.31,514.21 Z" fill="none" stroke="#ee7f1f" stroke-width="1.15" stroke-linejoin="miter"/>
<path d="M148.83,508.51 L152.08,514.11 L145.58,514.11 Z" fill="none" stroke="#ee7f1f" stroke-width="1.15" stroke-linejoin="miter"/>
<path d="M140.19,508.33 L143.44,513.93 L136.94,513.93 Z" fill="none" stroke="#ee7f1f" stroke-width="1.15" stroke-linejoin="miter"/>
<path d="M138.28,508.19 L141.53,513.79 L135.03,513.79 Z" fill="none" stroke="#ee7f1f" stroke-width="1.15" stroke-linejoin="miter"/>
<path d="M143.09,507.87 L146.34,513.47 L139.84,513.47 Z" fill="none" stroke="#ee7f1f" stroke-width="1.15" stroke-linejoin="miter"/>
<path d="M149.98,507.71 L153.23,513.31 L146.73,513.31 Z" fill="none" stroke="#ee7f1f" stroke-width="1.15" stroke-linejoin="miter"/>
<path d="M145.34,506.70 L148.59,512.30 L142.09,512.30 Z" fill="none" stroke="#ee7f1f" stroke-width="1.15" stroke-linejoin="miter"/>
<path d="M137.85,505.49 L141.10,511.09 L134.60,511.09 Z" fill="none" stroke="#ee7f1f" stroke-width="1.15" stroke-linejoin="miter"/>
<path d="M152.02,504.35 L155.27,509.95 L148.77,509.95 Z" fill="none" stroke="#ee7f1f" stroke-width="1.15" stroke-linejoin="miter"/>
<path d="M150.23,504.22 L153.48,509.82 L146.98,509.82 Z" fill="none" stroke="#ee7f1f" stroke-width="1.15" stroke-linejoin="miter"/>
<path d="M138.00,503.77 L141.25,509.37 L134.75,509.37 Z" fill="none" stroke="#ee7f1f" stroke-width="1.15" stroke-linejoin="miter"/>
<path d="M141.15,503.05 L144.40,508.65 L137.90,508.65 Z" fill="none" stroke="#ee7f1f" stroke-width="1.15" stroke-linejoin="miter"/>
<path d="M144.55,502.99 L147.80,508.59 L141.30,508.59 Z" fill="none" stroke="#ee7f1f" stroke-width="1.15" stroke-linejoin="miter"/>
<path d="M140.70,502.60 L143.95,508.20 L137.45,508.20 Z" fill="none" stroke="#ee7f1f" stroke-width="1.15" stroke-linejoin="miter"/>
<path d="M146.89,502.12 L150.14,507.72 L143.64,507.72 Z" fill="none" stroke="#ee7f1f" stroke-width="1.15" stroke-linejoin="miter"/>
<path d="M138.18,501.99 L141.43,507.59 L134.93,507.59 Z" fill="none" stroke="#ee7f1f" stroke-width="1.15" stroke-linejoin="miter"/>
<path d="M139.75,501.50 L143.00,507.10 L136.50,507.10 Z" fill="none" stroke="#ee7f1f" stroke-width="1.15" stroke-linejoin="miter"/>
<path d="M147.33,501.40 L150.58,507.00 L144.08,507.00 Z" fill="none" stroke="#ee7f1f" stroke-width="1.15" stroke-linejoin="miter"/>
<path d="M148.58,500.83 L151.83,506.43 L145.33,506.43 Z" fill="none" stroke="#ee7f1f" stroke-width="1.15" stroke-linejoin="miter"/>
<path d="M148.04,500.67 L151.29,506.27 L144.79,506.27 Z" fill="none" stroke="#ee7f1f" stroke-width="1.15" stroke-linejoin="miter"/>
<path d="M139.11,499.31 L142.36,504.91 L135.86,504.91 Z" fill="none" stroke="#ee7f1f" stroke-width="1.15" stroke-linejoin="miter"/>
<path d="M149.73,499.12 L152.98,504.72 L146.48,504.72 Z" fill="none" stroke="#ee7f1f" stroke-width="1.15" stroke-linejoin="miter"/>
<path d="M150.85,498.93 L154.10,504.53 L147.60,504.53 Z" fill="none" stroke="#ee7f1f" stroke-width="1.15" stroke-linejoin="miter"/>
<path d="M148.10,496.76 L151.35,502.36 L144.85,502.36 Z" fill="none" stroke="#ee7f1f" stroke-width="1.15" stroke-linejoin="miter"/>
<path d="M145.88,496.73 L149.13,502.33 L142.63,502.33 Z" fill="none" stroke="#ee7f1f" stroke-width="1.15" stroke-linejoin="miter"/>
<path d="M137.48,496.65 L140.73,502.25 L134.23,502.25 Z" fill="none" stroke="#ee7f1f" stroke-width="1.15" stroke-linejoin="miter"/>
<path d="M139.82,495.67 L143.07,501.27 L136.57,501.27 Z" fill="none" stroke="#ee7f1f" stroke-width="1.15" stroke-linejoin="miter"/>
<path d="M145.35,495.36 L148.60,500.96 L142.10,500.96 Z" fill="none" stroke="#ee7f1f" stroke-width="1.15" stroke-linejoin="miter"/>
<path d="M147.25,495.26 L150.50,500.86 L144.00,500.86 Z" fill="none" stroke="#ee7f1f" stroke-width="1.15" stroke-linejoin="miter"/>
<path d="M142.91,495.20 L146.16,500.80 L139.66,500.80 Z" fill="none" stroke="#ee7f1f" stroke-width="1.15" stroke-linejoin="miter"/>
<path d="M146.68,494.66 L149.93,500.26 L143.43,500.26 Z" fill="none" stroke="#ee7f1f" stroke-width="1.15" stroke-linejoin="miter"/>
<path d="M142.37,493.55 L145.62,499.15 L139.12,499.15 Z" fill="none" stroke="#ee7f1f" stroke-width="1.15" stroke-linejoin="miter"/>
<path d="M135.67,493.55 L138.92,499.15 L132.42,499.15 Z" fill="none" stroke="#ee7f1f" stroke-width="1.15" stroke-linejoin="miter"/>
<path d="M150.11,493.40 L153.36,499.00 L146.86,499.00 Z" fill="none" stroke="#ee7f1f" stroke-width="1.15" stroke-linejoin="miter"/>
<path d="M150.95,492.92 L154.20,498.52 L147.70,498.52 Z" fill="none" stroke="#ee7f1f" stroke-width="1.15" stroke-linejoin="miter"/>
<path d="M145.83,492.75 L149.08,498.35 L142.58,498.35 Z" fill="none" stroke="#ee7f1f" stroke-width="1.15" stroke-linejoin="miter"/>
<path d="M135.97,492.67 L139.22,498.27 L132.72,498.27 Z" fill="none" stroke="#ee7f1f" stroke-width="1.15" stroke-linejoin="miter"/>
<path d="M145.65,492.15 L148.90,497.75 L142.40,497.75 Z" fill="none" stroke="#ee7f1f" stroke-width="1.15" stroke-linejoin="miter"/>
<path d="M148.27,491.69 L151.52,497.29 L145.02,497.29 Z" fill="none" stroke="#ee7f1f" stroke-width="1.15" stroke-linejoin="miter"/>
<path d="M139.60,490.16 L142.85,495.76 L136.35,495.76 Z" fill="none" stroke="#ee7f1f" stroke-width="1.15" stroke-linejoin="miter"/>
<path d="M148.16,490.08 L151.41,495.68 L144.91,495.68 Z" fill="none" stroke="#ee7f1f" stroke-width="1.15" stroke-linejoin="miter"/>
<path d="M150.36,489.48 L153.61,495.08 L147.11,495.08 Z" fill="none" stroke="#ee7f1f" stroke-width="1.15" stroke-linejoin="miter"/>
<path d="M144.09,487.83 L147.34,493.43 L140.84,493.43 Z" fill="none" stroke="#ee7f1f" stroke-width="1.15" stroke-linejoin="miter"/>
<path d="M138.99,487.28 L142.24,492.88 L135.74,492.88 Z" fill="none" stroke="#ee7f1f" stroke-width="1.15" stroke-linejoin="miter"/>
<path d="M146.53,487.26 L149.78,492.86 L143.28,492.86 Z" fill="none" stroke="#ee7f1f" stroke-width="1.15" stroke-linejoin="miter"/>
<path d="M146.43,487.14 L149.68,492.74 L143.18,492.74 Z" fill="none" stroke="#ee7f1f" stroke-width="1.15" stroke-linejoin="miter"/>
<path d="M146.09,486.87 L149.34,492.47 L142.84,492.47 Z" fill="none" stroke="#ee7f1f" stroke-width="1.15" stroke-linejoin="miter"/>
<path d="M142.42,485.91 L145.67,491.51 L139.17,491.51 Z" fill="none" stroke="#ee7f1f" stroke-width="1.15" stroke-linejoin="miter"/>
<path d="M147.84,484.81 L151.09,490.41 L144.59,490.41 Z" fill="none" stroke="#ee7f1f" stroke-width="1.15" stroke-linejoin="miter"/>
<path d="M144.61,483.76 L147.86,489.36 L141.36,489.36 Z" fill="none" stroke="#ee7f1f" stroke-width="1.15" stroke-linejoin="miter"/>
<path d="M146.86,483.68 L150.11,489.28 L143.61,489.28 Z" fill="none" stroke="#ee7f1f" stroke-width="1.15" stroke-linejoin="miter"/>
<path d="M146.54,482.12 L149.79,487.72 L143.29,487.72 Z" fill="none" stroke="#ee7f1f" stroke-width="1.15" stroke-linejoin="miter"/>
<path d="M145.63,481.79 L148.88,487.39 L142.38,487.39 Z" fill="none" stroke="#ee7f1f" stroke-width="1.15" stroke-linejoin="miter"/>
<path d="M145.88,481.53 L149.13,487.13 L142.63,487.13 Z" fill="none" stroke="#ee7f1f" stroke-width="1.15" stroke-linejoin="miter"/>
<path d="M141.63,477.66 L144.88,483.26 L138.38,483.26 Z" fill="none" stroke="#ee7f1f" stroke-width="1.15" stroke-linejoin="miter"/>
<path d="M143.86,477.58 L147.11,483.18 L140.61,483.18 Z" fill="none" stroke="#ee7f1f" stroke-width="1.15" stroke-linejoin="miter"/>
<path d="M145.01,476.87 L148.26,482.47 L141.76,482.47 Z" fill="none" stroke="#ee7f1f" stroke-width="1.15" stroke-linejoin="miter"/>
<path d="M145.35,476.54 L148.60,482.14 L142.10,482.14 Z" fill="none" stroke="#ee7f1f" stroke-width="1.15" stroke-linejoin="miter"/>
<path d="M146.32,476.22 L149.57,481.82 L143.07,481.82 Z" fill="none" stroke="#ee7f1f" stroke-width="1.15" stroke-linejoin="miter"/>
<path d="M141.39,472.97 L144.64,478.57 L138.14,478.57 Z" fill="none" stroke="#ee7f1f" stroke-width="1.15" stroke-linejoin="miter"/>
<path d="M143.68,471.57 L146.93,477.17 L140.43,477.17 Z" fill="none" stroke="#ee7f1f" stroke-width="1.15" stroke-linejoin="miter"/>
<path d="M144.48,470.69 L147.73,476.29 L141.23,476.29 Z" fill="none" stroke="#ee7f1f" stroke-width="1.15" stroke-linejoin="miter"/>
<path d="M143.90,468.11 L147.15,473.71 L140.65,473.71 Z" fill="none" stroke="#ee7f1f" stroke-width="1.15" stroke-linejoin="miter"/>
<path d="M143.63,465.75 L146.88,471.35 L140.38,471.35 Z" fill="none" stroke="#ee7f1f" stroke-width="1.15" stroke-linejoin="miter"/>
<path d="M142.96,463.09 L146.21,468.69 L139.71,468.69 Z" fill="none" stroke="#ee7f1f" stroke-width="1.15" stroke-linejoin="miter"/>
<path d="M143.17,463.04 L146.42,468.64 L139.92,468.64 Z" fill="none" stroke="#ee7f1f" stroke-width="1.15" stroke-linejoin="miter"/>
<path d="M146.02,462.33 L149.27,467.93 L142.77,467.93 Z" fill="none" stroke="#ee7f1f" stroke-width="1.15" stroke-linejoin="miter"/>
<path d="M143.58,459.86 L146.83,465.46 L140.33,465.46 Z" fill="none" stroke="#ee7f1f" stroke-width="1.15" stroke-linejoin="miter"/>
<path d="M142.15,458.93 L145.40,464.53 L138.90,464.53 Z" fill="none" stroke="#ee7f1f" stroke-width="1.15" stroke-linejoin="miter"/>
<path d="M144.30,452.53 L147.55,458.13 L141.05,458.13 Z" fill="none" stroke="#ee7f1f" stroke-width="1.15" stroke-linejoin="miter"/>
<path d="M142.47,451.46 L145.72,457.06 L139.22,457.06 Z" fill="none" stroke="#ee7f1f" stroke-width="1.15" stroke-linejoin="miter"/>
<path d="M143.29,449.04 L146.54,454.64 L140.04,454.64 Z" fill="none" stroke="#ee7f1f" stroke-width="1.15" stroke-linejoin="miter"/>
<path d="M131.50,524.20 V495.60 H155.50 V524.20" stroke="#ee7f1f" stroke-width="1.8" fill="none"/>
<path d="M143.50,524.20 V467.70" stroke="#ee7f1f" stroke-width="1.5" fill="none"/>
<line x1="137.50" y1="467.70" x2="149.50" y2="467.70" stroke="#ee7f1f" stroke-width="1.6" />
<path d="M181.36,519.14 L184.61,524.74 L178.11,524.74 Z" fill="none" stroke="#4f8fd6" stroke-width="1.15" stroke-linejoin="miter"/>
<path d="M176.58,518.64 L179.83,524.24 L173.33,524.24 Z" fill="none" stroke="#4f8fd6" stroke-width="1.15" stroke-linejoin="miter"/>
<path d="M177.96,518.17 L181.21,523.77 L174.71,523.77 Z" fill="none" stroke="#4f8fd6" stroke-width="1.15" stroke-linejoin="miter"/>
<path d="M182.45,516.74 L185.70,522.34 L179.20,522.34 Z" fill="none" stroke="#4f8fd6" stroke-width="1.15" stroke-linejoin="miter"/>
<path d="M184.43,516.64 L187.68,522.24 L181.18,522.24 Z" fill="none" stroke="#4f8fd6" stroke-width="1.15" stroke-linejoin="miter"/>
<path d="M179.32,515.45 L182.57,521.05 L176.07,521.05 Z" fill="none" stroke="#4f8fd6" stroke-width="1.15" stroke-linejoin="miter"/>
<path d="M182.51,515.21 L185.76,520.81 L179.26,520.81 Z" fill="none" stroke="#4f8fd6" stroke-width="1.15" stroke-linejoin="miter"/>
<path d="M183.46,515.08 L186.71,520.68 L180.21,520.68 Z" fill="none" stroke="#4f8fd6" stroke-width="1.15" stroke-linejoin="miter"/>
<path d="M182.19,514.96 L185.44,520.56 L178.94,520.56 Z" fill="none" stroke="#4f8fd6" stroke-width="1.15" stroke-linejoin="miter"/>
<path d="M183.78,514.09 L187.03,519.69 L180.53,519.69 Z" fill="none" stroke="#4f8fd6" stroke-width="1.15" stroke-linejoin="miter"/>
<path d="M187.27,512.10 L190.52,517.70 L184.02,517.70 Z" fill="none" stroke="#4f8fd6" stroke-width="1.15" stroke-linejoin="miter"/>
<path d="M175.66,512.10 L178.91,517.70 L172.41,517.70 Z" fill="none" stroke="#4f8fd6" stroke-width="1.15" stroke-linejoin="miter"/>
<path d="M181.41,511.87 L184.66,517.47 L178.16,517.47 Z" fill="none" stroke="#4f8fd6" stroke-width="1.15" stroke-linejoin="miter"/>
<path d="M188.65,511.04 L191.90,516.64 L185.40,516.64 Z" fill="none" stroke="#4f8fd6" stroke-width="1.15" stroke-linejoin="miter"/>
<path d="M185.50,510.65 L188.75,516.25 L182.25,516.25 Z" fill="none" stroke="#4f8fd6" stroke-width="1.15" stroke-linejoin="miter"/>
<path d="M175.12,510.14 L178.37,515.74 L171.87,515.74 Z" fill="none" stroke="#4f8fd6" stroke-width="1.15" stroke-linejoin="miter"/>
<path d="M188.27,509.76 L191.52,515.36 L185.02,515.36 Z" fill="none" stroke="#4f8fd6" stroke-width="1.15" stroke-linejoin="miter"/>
<path d="M175.66,509.34 L178.91,514.94 L172.41,514.94 Z" fill="none" stroke="#4f8fd6" stroke-width="1.15" stroke-linejoin="miter"/>
<path d="M173.04,509.23 L176.29,514.83 L169.79,514.83 Z" fill="none" stroke="#4f8fd6" stroke-width="1.15" stroke-linejoin="miter"/>
<path d="M188.33,508.95 L191.58,514.55 L185.08,514.55 Z" fill="none" stroke="#4f8fd6" stroke-width="1.15" stroke-linejoin="miter"/>
<path d="M181.03,508.89 L184.28,514.49 L177.78,514.49 Z" fill="none" stroke="#4f8fd6" stroke-width="1.15" stroke-linejoin="miter"/>
<path d="M188.76,508.11 L192.01,513.71 L185.51,513.71 Z" fill="none" stroke="#4f8fd6" stroke-width="1.15" stroke-linejoin="miter"/>
<path d="M186.66,507.93 L189.91,513.53 L183.41,513.53 Z" fill="none" stroke="#4f8fd6" stroke-width="1.15" stroke-linejoin="miter"/>
<path d="M187.26,507.19 L190.51,512.79 L184.01,512.79 Z" fill="none" stroke="#4f8fd6" stroke-width="1.15" stroke-linejoin="miter"/>
<path d="M173.21,507.00 L176.46,512.60 L169.96,512.60 Z" fill="none" stroke="#4f8fd6" stroke-width="1.15" stroke-linejoin="miter"/>
<path d="M182.89,505.76 L186.14,511.36 L179.64,511.36 Z" fill="none" stroke="#4f8fd6" stroke-width="1.15" stroke-linejoin="miter"/>
<path d="M183.41,505.40 L186.66,511.00 L180.16,511.00 Z" fill="none" stroke="#4f8fd6" stroke-width="1.15" stroke-linejoin="miter"/>
<path d="M185.71,505.39 L188.96,510.99 L182.46,510.99 Z" fill="none" stroke="#4f8fd6" stroke-width="1.15" stroke-linejoin="miter"/>
<path d="M174.95,505.14 L178.20,510.74 L171.70,510.74 Z" fill="none" stroke="#4f8fd6" stroke-width="1.15" stroke-linejoin="miter"/>
<path d="M180.99,504.83 L184.24,510.43 L177.74,510.43 Z" fill="none" stroke="#4f8fd6" stroke-width="1.15" stroke-linejoin="miter"/>
<path d="M179.56,503.32 L182.81,508.92 L176.31,508.92 Z" fill="none" stroke="#4f8fd6" stroke-width="1.15" stroke-linejoin="miter"/>
<path d="M182.87,501.63 L186.12,507.23 L179.62,507.23 Z" fill="none" stroke="#4f8fd6" stroke-width="1.15" stroke-linejoin="miter"/>
<path d="M181.96,500.69 L185.21,506.29 L178.71,506.29 Z" fill="none" stroke="#4f8fd6" stroke-width="1.15" stroke-linejoin="miter"/>
<path d="M179.22,500.28 L182.47,505.88 L175.97,505.88 Z" fill="none" stroke="#4f8fd6" stroke-width="1.15" stroke-linejoin="miter"/>
<path d="M184.78,499.66 L188.03,505.26 L181.53,505.26 Z" fill="none" stroke="#4f8fd6" stroke-width="1.15" stroke-linejoin="miter"/>
<path d="M182.05,498.50 L185.30,504.10 L178.80,504.10 Z" fill="none" stroke="#4f8fd6" stroke-width="1.15" stroke-linejoin="miter"/>
<path d="M179.57,498.39 L182.82,503.99 L176.32,503.99 Z" fill="none" stroke="#4f8fd6" stroke-width="1.15" stroke-linejoin="miter"/>
<path d="M182.31,497.69 L185.56,503.29 L179.06,503.29 Z" fill="none" stroke="#4f8fd6" stroke-width="1.15" stroke-linejoin="miter"/>
<path d="M181.87,497.28 L185.12,502.88 L178.62,502.88 Z" fill="none" stroke="#4f8fd6" stroke-width="1.15" stroke-linejoin="miter"/>
<path d="M188.05,496.06 L191.30,501.66 L184.80,501.66 Z" fill="none" stroke="#4f8fd6" stroke-width="1.15" stroke-linejoin="miter"/>
<path d="M185.85,495.33 L189.10,500.93 L182.60,500.93 Z" fill="none" stroke="#4f8fd6" stroke-width="1.15" stroke-linejoin="miter"/>
<path d="M175.98,495.06 L179.23,500.66 L172.73,500.66 Z" fill="none" stroke="#4f8fd6" stroke-width="1.15" stroke-linejoin="miter"/>
<path d="M188.11,495.00 L191.36,500.60 L184.86,500.60 Z" fill="none" stroke="#4f8fd6" stroke-width="1.15" stroke-linejoin="miter"/>
<path d="M184.71,494.71 L187.96,500.31 L181.46,500.31 Z" fill="none" stroke="#4f8fd6" stroke-width="1.15" stroke-linejoin="miter"/>
<path d="M174.29,493.75 L177.54,499.35 L171.04,499.35 Z" fill="none" stroke="#4f8fd6" stroke-width="1.15" stroke-linejoin="miter"/>
<path d="M182.45,493.38 L185.70,498.98 L179.20,498.98 Z" fill="none" stroke="#4f8fd6" stroke-width="1.15" stroke-linejoin="miter"/>
<path d="M178.07,493.25 L181.32,498.85 L174.82,498.85 Z" fill="none" stroke="#4f8fd6" stroke-width="1.15" stroke-linejoin="miter"/>
<path d="M179.92,492.97 L183.17,498.57 L176.67,498.57 Z" fill="none" stroke="#4f8fd6" stroke-width="1.15" stroke-linejoin="miter"/>
<path d="M177.48,492.18 L180.73,497.78 L174.23,497.78 Z" fill="none" stroke="#4f8fd6" stroke-width="1.15" stroke-linejoin="miter"/>
<path d="M184.09,491.98 L187.34,497.58 L180.84,497.58 Z" fill="none" stroke="#4f8fd6" stroke-width="1.15" stroke-linejoin="miter"/>
<path d="M185.89,490.83 L189.14,496.43 L182.64,496.43 Z" fill="none" stroke="#4f8fd6" stroke-width="1.15" stroke-linejoin="miter"/>
<path d="M181.68,488.52 L184.93,494.12 L178.43,494.12 Z" fill="none" stroke="#4f8fd6" stroke-width="1.15" stroke-linejoin="miter"/>
<path d="M177.72,487.79 L180.97,493.39 L174.47,493.39 Z" fill="none" stroke="#4f8fd6" stroke-width="1.15" stroke-linejoin="miter"/>
<path d="M178.48,486.71 L181.73,492.31 L175.23,492.31 Z" fill="none" stroke="#4f8fd6" stroke-width="1.15" stroke-linejoin="miter"/>
<path d="M178.98,486.04 L182.23,491.64 L175.73,491.64 Z" fill="none" stroke="#4f8fd6" stroke-width="1.15" stroke-linejoin="miter"/>
<path d="M180.87,481.76 L184.12,487.36 L177.62,487.36 Z" fill="none" stroke="#4f8fd6" stroke-width="1.15" stroke-linejoin="miter"/>
<path d="M178.29,479.89 L181.54,485.49 L175.04,485.49 Z" fill="none" stroke="#4f8fd6" stroke-width="1.15" stroke-linejoin="miter"/>
<path d="M182.84,478.20 L186.09,483.80 L179.59,483.80 Z" fill="none" stroke="#4f8fd6" stroke-width="1.15" stroke-linejoin="miter"/>
<path d="M178.90,477.03 L182.15,482.63 L175.65,482.63 Z" fill="none" stroke="#4f8fd6" stroke-width="1.15" stroke-linejoin="miter"/>
<path d="M181.25,476.24 L184.50,481.84 L178.00,481.84 Z" fill="none" stroke="#4f8fd6" stroke-width="1.15" stroke-linejoin="miter"/>
<path d="M179.09,469.97 L182.34,475.57 L175.84,475.57 Z" fill="none" stroke="#4f8fd6" stroke-width="1.15" stroke-linejoin="miter"/>
<path d="M179.48,469.66 L182.73,475.26 L176.23,475.26 Z" fill="none" stroke="#4f8fd6" stroke-width="1.15" stroke-linejoin="miter"/>
<path d="M180.97,468.37 L184.22,473.97 L177.72,473.97 Z" fill="none" stroke="#4f8fd6" stroke-width="1.15" stroke-linejoin="miter"/>
<path d="M180.48,468.06 L183.73,473.66 L177.23,473.66 Z" fill="none" stroke="#4f8fd6" stroke-width="1.15" stroke-linejoin="miter"/>
<path d="M182.32,467.06 L185.57,472.66 L179.07,472.66 Z" fill="none" stroke="#4f8fd6" stroke-width="1.15" stroke-linejoin="miter"/>
<path d="M181.28,467.01 L184.53,472.61 L178.03,472.61 Z" fill="none" stroke="#4f8fd6" stroke-width="1.15" stroke-linejoin="miter"/>
<path d="M181.62,465.50 L184.87,471.10 L178.37,471.10 Z" fill="none" stroke="#4f8fd6" stroke-width="1.15" stroke-linejoin="miter"/>
<path d="M180.96,449.60 L184.21,455.20 L177.71,455.20 Z" fill="none" stroke="#4f8fd6" stroke-width="1.15" stroke-linejoin="miter"/>
<path d="M168.60,524.20 V498.50 H192.60 V524.20" stroke="#4f8fd6" stroke-width="1.8" fill="none"/>
<path d="M180.60,524.20 V478.80" stroke="#4f8fd6" stroke-width="1.5" fill="none"/>
<line x1="174.60" y1="478.80" x2="186.60" y2="478.80" stroke="#4f8fd6" stroke-width="1.6" />
<path d="M219.10,518.88 L222.35,524.48 L215.85,524.48 Z" fill="none" stroke="#8b4fb3" stroke-width="1.15" stroke-linejoin="miter"/>
<path d="M218.47,517.92 L221.72,523.52 L215.22,523.52 Z" fill="none" stroke="#8b4fb3" stroke-width="1.15" stroke-linejoin="miter"/>
<path d="M217.22,517.53 L220.47,523.13 L213.97,523.13 Z" fill="none" stroke="#8b4fb3" stroke-width="1.15" stroke-linejoin="miter"/>
<path d="M215.17,515.43 L218.42,521.03 L211.92,521.03 Z" fill="none" stroke="#8b4fb3" stroke-width="1.15" stroke-linejoin="miter"/>
<path d="M219.18,515.38 L222.43,520.98 L215.93,520.98 Z" fill="none" stroke="#8b4fb3" stroke-width="1.15" stroke-linejoin="miter"/>
<path d="M222.03,514.57 L225.28,520.17 L218.78,520.17 Z" fill="none" stroke="#8b4fb3" stroke-width="1.15" stroke-linejoin="miter"/>
<path d="M216.84,512.46 L220.09,518.06 L213.59,518.06 Z" fill="none" stroke="#8b4fb3" stroke-width="1.15" stroke-linejoin="miter"/>
<path d="M221.87,511.64 L225.12,517.24 L218.62,517.24 Z" fill="none" stroke="#8b4fb3" stroke-width="1.15" stroke-linejoin="miter"/>
<path d="M211.75,511.27 L215.00,516.87 L208.50,516.87 Z" fill="none" stroke="#8b4fb3" stroke-width="1.15" stroke-linejoin="miter"/>
<path d="M218.08,511.23 L221.33,516.83 L214.83,516.83 Z" fill="none" stroke="#8b4fb3" stroke-width="1.15" stroke-linejoin="miter"/>
<path d="M213.87,510.22 L217.12,515.82 L210.62,515.82 Z" fill="none" stroke="#8b4fb3" stroke-width="1.15" stroke-linejoin="miter"/>
<path d="M217.63,509.16 L220.88,514.76 L214.38,514.76 Z" fill="none" stroke="#8b4fb3" stroke-width="1.15" stroke-linejoin="miter"/>
<path d="M219.13,508.48 L222.38,514.08 L215.88,514.08 Z" fill="none" stroke="#8b4fb3" stroke-width="1.15" stroke-linejoin="miter"/>
<path d="M222.26,508.41 L225.51,514.01 L219.01,514.01 Z" fill="none" stroke="#8b4fb3" stroke-width="1.15" stroke-linejoin="miter"/>
<path d="M217.99,508.30 L221.24,513.90 L214.74,513.90 Z" fill="none" stroke="#8b4fb3" stroke-width="1.15" stroke-linejoin="miter"/>
<path d="M223.50,508.01 L226.75,513.61 L220.25,513.61 Z" fill="none" stroke="#8b4fb3" stroke-width="1.15" stroke-linejoin="miter"/>
<path d="M214.98,507.84 L218.23,513.44 L211.73,513.44 Z" fill="none" stroke="#8b4fb3" stroke-width="1.15" stroke-linejoin="miter"/>
<path d="M212.58,506.89 L215.83,512.49 L209.33,512.49 Z" fill="none" stroke="#8b4fb3" stroke-width="1.15" stroke-linejoin="miter"/>
<path d="M217.22,506.61 L220.47,512.21 L213.97,512.21 Z" fill="none" stroke="#8b4fb3" stroke-width="1.15" stroke-linejoin="miter"/>
<path d="M220.66,505.89 L223.91,511.49 L217.41,511.49 Z" fill="none" stroke="#8b4fb3" stroke-width="1.15" stroke-linejoin="miter"/>
<path d="M220.97,503.91 L224.22,509.51 L217.72,509.51 Z" fill="none" stroke="#8b4fb3" stroke-width="1.15" stroke-linejoin="miter"/>
<path d="M210.42,503.60 L213.67,509.20 L207.17,509.20 Z" fill="none" stroke="#8b4fb3" stroke-width="1.15" stroke-linejoin="miter"/>
<path d="M213.75,503.53 L217.00,509.13 L210.50,509.13 Z" fill="none" stroke="#8b4fb3" stroke-width="1.15" stroke-linejoin="miter"/>
<path d="M213.84,503.42 L217.09,509.02 L210.59,509.02 Z" fill="none" stroke="#8b4fb3" stroke-width="1.15" stroke-linejoin="miter"/>
<path d="M217.14,502.08 L220.39,507.68 L213.89,507.68 Z" fill="none" stroke="#8b4fb3" stroke-width="1.15" stroke-linejoin="miter"/>
<path d="M224.48,501.88 L227.73,507.48 L221.23,507.48 Z" fill="none" stroke="#8b4fb3" stroke-width="1.15" stroke-linejoin="miter"/>
<path d="M213.40,501.21 L216.65,506.81 L210.15,506.81 Z" fill="none" stroke="#8b4fb3" stroke-width="1.15" stroke-linejoin="miter"/>
<path d="M209.18,500.40 L212.43,506.00 L205.93,506.00 Z" fill="none" stroke="#8b4fb3" stroke-width="1.15" stroke-linejoin="miter"/>
<path d="M225.17,499.82 L228.42,505.42 L221.92,505.42 Z" fill="none" stroke="#8b4fb3" stroke-width="1.15" stroke-linejoin="miter"/>
<path d="M224.62,499.59 L227.87,505.19 L221.37,505.19 Z" fill="none" stroke="#8b4fb3" stroke-width="1.15" stroke-linejoin="miter"/>
<path d="M222.50,499.17 L225.75,504.77 L219.25,504.77 Z" fill="none" stroke="#8b4fb3" stroke-width="1.15" stroke-linejoin="miter"/>
<path d="M209.52,499.10 L212.77,504.70 L206.27,504.70 Z" fill="none" stroke="#8b4fb3" stroke-width="1.15" stroke-linejoin="miter"/>
<path d="M213.46,499.09 L216.71,504.69 L210.21,504.69 Z" fill="none" stroke="#8b4fb3" stroke-width="1.15" stroke-linejoin="miter"/>
<path d="M212.94,498.74 L216.19,504.34 L209.69,504.34 Z" fill="none" stroke="#8b4fb3" stroke-width="1.15" stroke-linejoin="miter"/>
<path d="M224.22,498.43 L227.47,504.03 L220.97,504.03 Z" fill="none" stroke="#8b4fb3" stroke-width="1.15" stroke-linejoin="miter"/>
<path d="M211.43,498.30 L214.68,503.90 L208.18,503.90 Z" fill="none" stroke="#8b4fb3" stroke-width="1.15" stroke-linejoin="miter"/>
<path d="M211.47,498.23 L214.72,503.83 L208.22,503.83 Z" fill="none" stroke="#8b4fb3" stroke-width="1.15" stroke-linejoin="miter"/>
<path d="M213.03,498.15 L216.28,503.75 L209.78,503.75 Z" fill="none" stroke="#8b4fb3" stroke-width="1.15" stroke-linejoin="miter"/>
<path d="M223.16,497.88 L226.41,503.48 L219.91,503.48 Z" fill="none" stroke="#8b4fb3" stroke-width="1.15" stroke-linejoin="miter"/>
<path d="M211.72,497.83 L214.97,503.43 L208.47,503.43 Z" fill="none" stroke="#8b4fb3" stroke-width="1.15" stroke-linejoin="miter"/>
<path d="M227.27,496.94 L230.52,502.54 L224.02,502.54 Z" fill="none" stroke="#8b4fb3" stroke-width="1.15" stroke-linejoin="miter"/>
<path d="M214.30,493.83 L217.55,499.43 L211.05,499.43 Z" fill="none" stroke="#8b4fb3" stroke-width="1.15" stroke-linejoin="miter"/>
<path d="M220.21,493.65 L223.46,499.25 L216.96,499.25 Z" fill="none" stroke="#8b4fb3" stroke-width="1.15" stroke-linejoin="miter"/>
<path d="M213.16,493.35 L216.41,498.95 L209.91,498.95 Z" fill="none" stroke="#8b4fb3" stroke-width="1.15" stroke-linejoin="miter"/>
<path d="M214.64,493.33 L217.89,498.93 L211.39,498.93 Z" fill="none" stroke="#8b4fb3" stroke-width="1.15" stroke-linejoin="miter"/>
<path d="M222.73,493.21 L225.98,498.81 L219.48,498.81 Z" fill="none" stroke="#8b4fb3" stroke-width="1.15" stroke-linejoin="miter"/>
<path d="M224.08,493.11 L227.33,498.71 L220.83,498.71 Z" fill="none" stroke="#8b4fb3" stroke-width="1.15" stroke-linejoin="miter"/>
<path d="M213.90,492.49 L217.15,498.09 L210.65,498.09 Z" fill="none" stroke="#8b4fb3" stroke-width="1.15" stroke-linejoin="miter"/>
<path d="M215.63,492.24 L218.88,497.84 L212.38,497.84 Z" fill="none" stroke="#8b4fb3" stroke-width="1.15" stroke-linejoin="miter"/>
<path d="M211.61,491.97 L214.86,497.57 L208.36,497.57 Z" fill="none" stroke="#8b4fb3" stroke-width="1.15" stroke-linejoin="miter"/>
<path d="M213.50,491.91 L216.75,497.51 L210.25,497.51 Z" fill="none" stroke="#8b4fb3" stroke-width="1.15" stroke-linejoin="miter"/>
<path d="M216.10,491.86 L219.35,497.46 L212.85,497.46 Z" fill="none" stroke="#8b4fb3" stroke-width="1.15" stroke-linejoin="miter"/>
<path d="M217.99,491.83 L221.24,497.43 L214.74,497.43 Z" fill="none" stroke="#8b4fb3" stroke-width="1.15" stroke-linejoin="miter"/>
<path d="M218.70,490.72 L221.95,496.32 L215.45,496.32 Z" fill="none" stroke="#8b4fb3" stroke-width="1.15" stroke-linejoin="miter"/>
<path d="M215.91,488.95 L219.16,494.55 L212.66,494.55 Z" fill="none" stroke="#8b4fb3" stroke-width="1.15" stroke-linejoin="miter"/>
<path d="M214.83,488.05 L218.08,493.65 L211.58,493.65 Z" fill="none" stroke="#8b4fb3" stroke-width="1.15" stroke-linejoin="miter"/>
<path d="M218.26,487.98 L221.51,493.58 L215.01,493.58 Z" fill="none" stroke="#8b4fb3" stroke-width="1.15" stroke-linejoin="miter"/>
<path d="M216.79,483.34 L220.04,488.94 L213.54,488.94 Z" fill="none" stroke="#8b4fb3" stroke-width="1.15" stroke-linejoin="miter"/>
<path d="M216.77,483.33 L220.02,488.93 L213.52,488.93 Z" fill="none" stroke="#8b4fb3" stroke-width="1.15" stroke-linejoin="miter"/>
<path d="M221.28,481.00 L224.53,486.60 L218.03,486.60 Z" fill="none" stroke="#8b4fb3" stroke-width="1.15" stroke-linejoin="miter"/>
<path d="M218.36,480.90 L221.61,486.50 L215.11,486.50 Z" fill="none" stroke="#8b4fb3" stroke-width="1.15" stroke-linejoin="miter"/>
<path d="M214.03,480.10 L217.28,485.70 L210.78,485.70 Z" fill="none" stroke="#8b4fb3" stroke-width="1.15" stroke-linejoin="miter"/>
<path d="M221.16,479.69 L224.41,485.29 L217.91,485.29 Z" fill="none" stroke="#8b4fb3" stroke-width="1.15" stroke-linejoin="miter"/>
<path d="M221.26,477.64 L224.51,483.24 L218.01,483.24 Z" fill="none" stroke="#8b4fb3" stroke-width="1.15" stroke-linejoin="miter"/>
<path d="M216.78,477.39 L220.03,482.99 L213.53,482.99 Z" fill="none" stroke="#8b4fb3" stroke-width="1.15" stroke-linejoin="miter"/>
<path d="M221.72,476.67 L224.97,482.27 L218.47,482.27 Z" fill="none" stroke="#8b4fb3" stroke-width="1.15" stroke-linejoin="miter"/>
<path d="M215.32,474.21 L218.57,479.81 L212.07,479.81 Z" fill="none" stroke="#8b4fb3" stroke-width="1.15" stroke-linejoin="miter"/>
<path d="M220.22,474.08 L223.47,479.68 L216.97,479.68 Z" fill="none" stroke="#8b4fb3" stroke-width="1.15" stroke-linejoin="miter"/>
<path d="M215.71,472.85 L218.96,478.45 L212.46,478.45 Z" fill="none" stroke="#8b4fb3" stroke-width="1.15" stroke-linejoin="miter"/>
<path d="M219.62,471.24 L222.87,476.84 L216.37,476.84 Z" fill="none" stroke="#8b4fb3" stroke-width="1.15" stroke-linejoin="miter"/>
<path d="M218.51,468.93 L221.76,474.53 L215.26,474.53 Z" fill="none" stroke="#8b4fb3" stroke-width="1.15" stroke-linejoin="miter"/>
<path d="M219.51,467.84 L222.76,473.44 L216.26,473.44 Z" fill="none" stroke="#8b4fb3" stroke-width="1.15" stroke-linejoin="miter"/>
<path d="M217.04,465.60 L220.29,471.20 L213.79,471.20 Z" fill="none" stroke="#8b4fb3" stroke-width="1.15" stroke-linejoin="miter"/>
<path d="M218.21,460.45 L221.46,466.05 L214.96,466.05 Z" fill="none" stroke="#8b4fb3" stroke-width="1.15" stroke-linejoin="miter"/>
<path d="M219.44,458.88 L222.69,464.48 L216.19,464.48 Z" fill="none" stroke="#8b4fb3" stroke-width="1.15" stroke-linejoin="miter"/>
<path d="M216.24,457.73 L219.49,463.33 L212.99,463.33 Z" fill="none" stroke="#8b4fb3" stroke-width="1.15" stroke-linejoin="miter"/>
<path d="M216.65,454.63 L219.90,460.23 L213.40,460.23 Z" fill="none" stroke="#8b4fb3" stroke-width="1.15" stroke-linejoin="miter"/>
<path d="M205.70,524.20 V494.50 H229.70 V524.20" stroke="#8b4fb3" stroke-width="1.8" fill="none"/>
<text transform="translate(332.90,318.90) scale(1,1.0)" font-size="9.7" text-anchor="start" font-weight="bold" fill="#111" >D</text>
<text transform="translate(400.80,325.40) scale(1,1.15)" font-size="7.6" text-anchor="start" font-weight="normal" fill="#333333" >Neutralization against Omicron</text>
<text transform="translate(337.4,343.1) scale(1,1.15)" font-size="7.6" fill="#333333">NT<tspan font-size="4.2" dy="2.6">50</tspan></text>
<path d="M360.70,359.00 H367.20 V433.80" stroke="#1a1a1a" stroke-width="1.7" fill="none"/>
<line x1="360.70" y1="396.80" x2="367.20" y2="396.80" stroke="#1a1a1a" stroke-width="1.7" />
<line x1="367.20" y1="447.60" x2="367.20" y2="522.70" stroke="#1a1a1a" stroke-width="1.7" />
<line x1="363.00" y1="432.10" x2="371.00" y2="439.60" stroke="#1a1a1a" stroke-width="1.5" />
<line x1="363.00" y1="442.80" x2="371.00" y2="450.10" stroke="#1a1a1a" stroke-width="1.5" />
<line x1="360.70" y1="484.90" x2="367.20" y2="484.90" stroke="#1a1a1a" stroke-width="1.7" />
<line x1="360.70" y1="522.70" x2="528.80" y2="522.70" stroke="#1a1a1a" stroke-width="1.7" />
<line x1="392.00" y1="522.70" x2="392.00" y2="529.20" stroke="#1a1a1a" stroke-width="1.7" />
<line x1="428.80" y1="522.70" x2="428.80" y2="529.20" stroke="#1a1a1a" stroke-width="1.7" />
<line x1="466.00" y1="522.70" x2="466.00" y2="529.20" stroke="#1a1a1a" stroke-width="1.7" />
<line x1="503.00" y1="522.70" x2="503.00" y2="529.20" stroke="#1a1a1a" stroke-width="1.7" />
<text transform="translate(354.60,361.70) scale(1,1.15)" font-size="7.6" text-anchor="end" fill="#333333">2000</text>
<text transform="translate(354.60,399.50) scale(1,1.15)" font-size="7.6" text-anchor="end" fill="#333333">1500</text>
<text transform="translate(354.60,433.10) scale(1,1.15)" font-size="7.6" text-anchor="end" fill="#333333">1000</text>
<text transform="translate(354.60,448.60) scale(1,1.15)" font-size="7.6" text-anchor="end" fill="#333333">400</text>
<text transform="translate(354.60,487.60) scale(1,1.15)" font-size="7.6" text-anchor="end" fill="#333333">200</text>
<text transform="translate(354.60,525.40) scale(1,1.15)" font-size="7.6" text-anchor="end" fill="#333333">0</text>
<text transform="translate(398.30,543.00) rotate(-45) scale(1,1.15)" font-size="7.6" text-anchor="end" fill="#333333">NC</text>
<text transform="translate(435.10,543.00) rotate(-45) scale(1,1.15)" font-size="7.6" text-anchor="end" fill="#333333">BBIBP-CorV</text>
<text transform="translate(472.30,543.00) rotate(-45) scale(1,1.15)" font-size="7.6" text-anchor="end" fill="#333333">WIBP-CorV</text>
<text transform="translate(509.30,543.00) rotate(-45) scale(1,1.15)" font-size="7.6" text-anchor="end" fill="#333333">CoronaVac</text>
<path d="M462.60,365.90 H500.50" stroke="#4a4a4a" stroke-width="1.05" fill="none"/>
<text transform="translate(481.55,363.90) scale(1,1.15)" font-size="7.6" text-anchor="middle" fill="#333333">0.494</text>
<path d="M423.60,377.50 H461.80" stroke="#4a4a4a" stroke-width="1.05" fill="none"/>
<text transform="translate(442.70,375.50) scale(1,1.15)" font-size="7.6" text-anchor="middle" fill="#333333">0.488</text>
<path d="M423.60,392.40 H501.40" stroke="#4a4a4a" stroke-width="1.05" fill="none"/>
<text transform="translate(462.50,390.40) scale(1,1.15)" font-size="7.6" text-anchor="middle" fill="#333333">0.450</text>
<path d="M391.50,417.60 V405.60 H502.20 V417.60" stroke="#4a4a4a" stroke-width="1.05" fill="none"/>
<text transform="translate(447.85,403.60) scale(1,1.15)" font-size="7.6" text-anchor="middle" fill="#333333">0.009</text>
<path d="M391.50,431.80 V422.20 H465.90 V437.40" stroke="#4a4a4a" stroke-width="1.05" fill="none"/>
<text transform="translate(426.40,420.20) scale(1,1.15)" font-size="7.6" text-anchor="middle" fill="#333333">0.012</text>
<path d="M391.50,492.50 V436.80 H426.90 V442.20" stroke="#4a4a4a" stroke-width="1.05" fill="none"/>
<text transform="translate(409.20,434.80) scale(1,1.15)" font-size="7.6" text-anchor="middle" fill="#333333">0.014</text>
<path d="M386.40,507.00 L389.60,502.00 L383.20,502.00 Z" fill="none" stroke="#a6a6a6" stroke-width="1.15" stroke-linejoin="miter"/>
<path d="M400.50,511.20 L403.70,506.20 L397.30,506.20 Z" fill="none" stroke="#a6a6a6" stroke-width="1.15" stroke-linejoin="miter"/>
<path d="M386.40,513.20 L389.60,508.20 L383.20,508.20 Z" fill="none" stroke="#a6a6a6" stroke-width="1.15" stroke-linejoin="miter"/>
<path d="M393.60,512.50 L396.80,507.50 L390.40,507.50 Z" fill="none" stroke="#a6a6a6" stroke-width="1.15" stroke-linejoin="miter"/>
<path d="M381.90,518.80 L385.10,513.80 L378.70,513.80 Z" fill="none" stroke="#a6a6a6" stroke-width="1.15" stroke-linejoin="miter"/>
<path d="M400.50,518.80 L403.70,513.80 L397.30,513.80 Z" fill="none" stroke="#a6a6a6" stroke-width="1.15" stroke-linejoin="miter"/>
<path d="M391.00,518.10 L394.20,513.10 L387.80,513.10 Z" fill="none" stroke="#a6a6a6" stroke-width="1.15" stroke-linejoin="miter"/>
<path d="M379.80,522.70 V513.60 H404.20 V522.70" stroke="#a6a6a6" stroke-width="1.8" fill="none"/>
<path d="M426.93,523.18 L430.13,518.18 L423.73,518.18 Z" fill="none" stroke="#ee7f1f" stroke-width="1.15" stroke-linejoin="miter"/>
<path d="M426.84,522.85 L430.04,517.85 L423.64,517.85 Z" fill="none" stroke="#ee7f1f" stroke-width="1.15" stroke-linejoin="miter"/>
<path d="M431.21,522.29 L434.41,517.29 L428.01,517.29 Z" fill="none" stroke="#ee7f1f" stroke-width="1.15" stroke-linejoin="miter"/>
<path d="M427.05,522.19 L430.25,517.19 L423.85,517.19 Z" fill="none" stroke="#ee7f1f" stroke-width="1.15" stroke-linejoin="miter"/>
<path d="M431.34,521.08 L434.54,516.08 L428.14,516.08 Z" fill="none" stroke="#ee7f1f" stroke-width="1.15" stroke-linejoin="miter"/>
<path d="M427.46,518.73 L430.66,513.73 L424.26,513.73 Z" fill="none" stroke="#ee7f1f" stroke-width="1.15" stroke-linejoin="miter"/>
<path d="M427.45,517.96 L430.65,512.96 L424.25,512.96 Z" fill="none" stroke="#ee7f1f" stroke-width="1.15" stroke-linejoin="miter"/>
<path d="M425.76,517.41 L428.96,512.41 L422.56,512.41 Z" fill="none" stroke="#ee7f1f" stroke-width="1.15" stroke-linejoin="miter"/>
<path d="M424.39,517.27 L427.59,512.27 L421.19,512.27 Z" fill="none" stroke="#ee7f1f" stroke-width="1.15" stroke-linejoin="miter"/>
<path d="M424.67,515.99 L427.87,510.99 L421.47,510.99 Z" fill="none" stroke="#ee7f1f" stroke-width="1.15" stroke-linejoin="miter"/>
<path d="M422.66,515.86 L425.86,510.86 L419.46,510.86 Z" fill="none" stroke="#ee7f1f" stroke-width="1.15" stroke-linejoin="miter"/>
<path d="M428.97,515.80 L432.17,510.80 L425.77,510.80 Z" fill="none" stroke="#ee7f1f" stroke-width="1.15" stroke-linejoin="miter"/>
<path d="M433.92,515.69 L437.12,510.69 L430.72,510.69 Z" fill="none" stroke="#ee7f1f" stroke-width="1.15" stroke-linejoin="miter"/>
<path d="M432.25,515.05 L435.45,510.05 L429.05,510.05 Z" fill="none" stroke="#ee7f1f" stroke-width="1.15" stroke-linejoin="miter"/>
<path d="M427.66,514.78 L430.86,509.78 L424.46,509.78 Z" fill="none" stroke="#ee7f1f" stroke-width="1.15" stroke-linejoin="miter"/>
<path d="M427.79,513.79 L430.99,508.79 L424.59,508.79 Z" fill="none" stroke="#ee7f1f" stroke-width="1.15" stroke-linejoin="miter"/>
<path d="M426.20,513.73 L429.40,508.73 L423.00,508.73 Z" fill="none" stroke="#ee7f1f" stroke-width="1.15" stroke-linejoin="miter"/>
<path d="M431.38,513.64 L434.58,508.64 L428.18,508.64 Z" fill="none" stroke="#ee7f1f" stroke-width="1.15" stroke-linejoin="miter"/>
<path d="M434.18,512.85 L437.38,507.85 L430.98,507.85 Z" fill="none" stroke="#ee7f1f" stroke-width="1.15" stroke-linejoin="miter"/>
<path d="M433.15,512.82 L436.35,507.82 L429.95,507.82 Z" fill="none" stroke="#ee7f1f" stroke-width="1.15" stroke-linejoin="miter"/>
<path d="M431.04,512.51 L434.24,507.51 L427.84,507.51 Z" fill="none" stroke="#ee7f1f" stroke-width="1.15" stroke-linejoin="miter"/>
<path d="M427.34,512.14 L430.54,507.14 L424.14,507.14 Z" fill="none" stroke="#ee7f1f" stroke-width="1.15" stroke-linejoin="miter"/>
<path d="M429.00,511.98 L432.20,506.98 L425.80,506.98 Z" fill="none" stroke="#ee7f1f" stroke-width="1.15" stroke-linejoin="miter"/>
<path d="M424.14,511.72 L427.34,506.72 L420.94,506.72 Z" fill="none" stroke="#ee7f1f" stroke-width="1.15" stroke-linejoin="miter"/>
<path d="M436.18,511.54 L439.38,506.54 L432.98,506.54 Z" fill="none" stroke="#ee7f1f" stroke-width="1.15" stroke-linejoin="miter"/>
<path d="M425.21,510.03 L428.41,505.03 L422.01,505.03 Z" fill="none" stroke="#ee7f1f" stroke-width="1.15" stroke-linejoin="miter"/>
<path d="M421.93,509.91 L425.13,504.91 L418.73,504.91 Z" fill="none" stroke="#ee7f1f" stroke-width="1.15" stroke-linejoin="miter"/>
<path d="M422.10,509.80 L425.30,504.80 L418.90,504.80 Z" fill="none" stroke="#ee7f1f" stroke-width="1.15" stroke-linejoin="miter"/>
<path d="M423.32,509.63 L426.52,504.63 L420.12,504.63 Z" fill="none" stroke="#ee7f1f" stroke-width="1.15" stroke-linejoin="miter"/>
<path d="M427.51,508.90 L430.71,503.90 L424.31,503.90 Z" fill="none" stroke="#ee7f1f" stroke-width="1.15" stroke-linejoin="miter"/>
<path d="M433.10,508.80 L436.30,503.80 L429.90,503.80 Z" fill="none" stroke="#ee7f1f" stroke-width="1.15" stroke-linejoin="miter"/>
<path d="M427.55,508.49 L430.75,503.49 L424.35,503.49 Z" fill="none" stroke="#ee7f1f" stroke-width="1.15" stroke-linejoin="miter"/>
<path d="M424.30,508.02 L427.50,503.02 L421.10,503.02 Z" fill="none" stroke="#ee7f1f" stroke-width="1.15" stroke-linejoin="miter"/>
<path d="M432.65,506.72 L435.85,501.72 L429.45,501.72 Z" fill="none" stroke="#ee7f1f" stroke-width="1.15" stroke-linejoin="miter"/>
<path d="M429.57,506.21 L432.77,501.21 L426.37,501.21 Z" fill="none" stroke="#ee7f1f" stroke-width="1.15" stroke-linejoin="miter"/>
<path d="M433.59,505.56 L436.79,500.56 L430.39,500.56 Z" fill="none" stroke="#ee7f1f" stroke-width="1.15" stroke-linejoin="miter"/>
<path d="M428.32,505.19 L431.52,500.19 L425.12,500.19 Z" fill="none" stroke="#ee7f1f" stroke-width="1.15" stroke-linejoin="miter"/>
<path d="M422.59,504.38 L425.79,499.38 L419.39,499.38 Z" fill="none" stroke="#ee7f1f" stroke-width="1.15" stroke-linejoin="miter"/>
<path d="M429.22,504.10 L432.42,499.10 L426.02,499.10 Z" fill="none" stroke="#ee7f1f" stroke-width="1.15" stroke-linejoin="miter"/>
<path d="M428.40,503.91 L431.60,498.91 L425.20,498.91 Z" fill="none" stroke="#ee7f1f" stroke-width="1.15" stroke-linejoin="miter"/>
<path d="M425.82,503.66 L429.02,498.66 L422.62,498.66 Z" fill="none" stroke="#ee7f1f" stroke-width="1.15" stroke-linejoin="miter"/>
<path d="M421.19,503.34 L424.39,498.34 L417.99,498.34 Z" fill="none" stroke="#ee7f1f" stroke-width="1.15" stroke-linejoin="miter"/>
<path d="M420.41,503.22 L423.61,498.22 L417.21,498.22 Z" fill="none" stroke="#ee7f1f" stroke-width="1.15" stroke-linejoin="miter"/>
<path d="M430.20,503.08 L433.40,498.08 L427.00,498.08 Z" fill="none" stroke="#ee7f1f" stroke-width="1.15" stroke-linejoin="miter"/>
<path d="M420.79,502.57 L423.99,497.57 L417.59,497.57 Z" fill="none" stroke="#ee7f1f" stroke-width="1.15" stroke-linejoin="miter"/>
<path d="M425.73,502.43 L428.93,497.43 L422.53,497.43 Z" fill="none" stroke="#ee7f1f" stroke-width="1.15" stroke-linejoin="miter"/>
<path d="M419.57,502.31 L422.77,497.31 L416.37,497.31 Z" fill="none" stroke="#ee7f1f" stroke-width="1.15" stroke-linejoin="miter"/>
<path d="M428.13,501.45 L431.33,496.45 L424.93,496.45 Z" fill="none" stroke="#ee7f1f" stroke-width="1.15" stroke-linejoin="miter"/>
<path d="M435.33,501.11 L438.53,496.11 L432.13,496.11 Z" fill="none" stroke="#ee7f1f" stroke-width="1.15" stroke-linejoin="miter"/>
<path d="M421.27,500.82 L424.47,495.82 L418.07,495.82 Z" fill="none" stroke="#ee7f1f" stroke-width="1.15" stroke-linejoin="miter"/>
<path d="M428.41,500.75 L431.61,495.75 L425.21,495.75 Z" fill="none" stroke="#ee7f1f" stroke-width="1.15" stroke-linejoin="miter"/>
<path d="M434.36,500.55 L437.56,495.55 L431.16,495.55 Z" fill="none" stroke="#ee7f1f" stroke-width="1.15" stroke-linejoin="miter"/>
<path d="M435.46,500.48 L438.66,495.48 L432.26,495.48 Z" fill="none" stroke="#ee7f1f" stroke-width="1.15" stroke-linejoin="miter"/>
<path d="M424.19,499.83 L427.39,494.83 L420.99,494.83 Z" fill="none" stroke="#ee7f1f" stroke-width="1.15" stroke-linejoin="miter"/>
<path d="M433.47,499.55 L436.67,494.55 L430.27,494.55 Z" fill="none" stroke="#ee7f1f" stroke-width="1.15" stroke-linejoin="miter"/>
<path d="M426.28,499.25 L429.48,494.25 L423.08,494.25 Z" fill="none" stroke="#ee7f1f" stroke-width="1.15" stroke-linejoin="miter"/>
<path d="M433.72,499.25 L436.92,494.25 L430.52,494.25 Z" fill="none" stroke="#ee7f1f" stroke-width="1.15" stroke-linejoin="miter"/>
<path d="M430.92,498.85 L434.12,493.85 L427.72,493.85 Z" fill="none" stroke="#ee7f1f" stroke-width="1.15" stroke-linejoin="miter"/>
<path d="M426.16,498.82 L429.36,493.82 L422.96,493.82 Z" fill="none" stroke="#ee7f1f" stroke-width="1.15" stroke-linejoin="miter"/>
<path d="M426.92,498.67 L430.12,493.67 L423.72,493.67 Z" fill="none" stroke="#ee7f1f" stroke-width="1.15" stroke-linejoin="miter"/>
<path d="M429.30,497.79 L432.50,492.79 L426.10,492.79 Z" fill="none" stroke="#ee7f1f" stroke-width="1.15" stroke-linejoin="miter"/>
<path d="M430.85,497.74 L434.05,492.74 L427.65,492.74 Z" fill="none" stroke="#ee7f1f" stroke-width="1.15" stroke-linejoin="miter"/>
<path d="M436.73,497.10 L439.93,492.10 L433.53,492.10 Z" fill="none" stroke="#ee7f1f" stroke-width="1.15" stroke-linejoin="miter"/>
<path d="M437.47,496.62 L440.67,491.62 L434.27,491.62 Z" fill="none" stroke="#ee7f1f" stroke-width="1.15" stroke-linejoin="miter"/>
<path d="M427.90,495.03 L431.10,490.03 L424.70,490.03 Z" fill="none" stroke="#ee7f1f" stroke-width="1.15" stroke-linejoin="miter"/>
<path d="M425.16,495.00 L428.36,490.00 L421.96,490.00 Z" fill="none" stroke="#ee7f1f" stroke-width="1.15" stroke-linejoin="miter"/>
<path d="M425.10,494.58 L428.30,489.58 L421.90,489.58 Z" fill="none" stroke="#ee7f1f" stroke-width="1.15" stroke-linejoin="miter"/>
<path d="M423.39,494.06 L426.59,489.06 L420.19,489.06 Z" fill="none" stroke="#ee7f1f" stroke-width="1.15" stroke-linejoin="miter"/>
<path d="M432.52,493.62 L435.72,488.62 L429.32,488.62 Z" fill="none" stroke="#ee7f1f" stroke-width="1.15" stroke-linejoin="miter"/>
<path d="M431.78,493.38 L434.98,488.38 L428.58,488.38 Z" fill="none" stroke="#ee7f1f" stroke-width="1.15" stroke-linejoin="miter"/>
<path d="M428.73,493.31 L431.93,488.31 L425.53,488.31 Z" fill="none" stroke="#ee7f1f" stroke-width="1.15" stroke-linejoin="miter"/>
<path d="M433.61,493.18 L436.81,488.18 L430.41,488.18 Z" fill="none" stroke="#ee7f1f" stroke-width="1.15" stroke-linejoin="miter"/>
<path d="M429.25,493.16 L432.45,488.16 L426.05,488.16 Z" fill="none" stroke="#ee7f1f" stroke-width="1.15" stroke-linejoin="miter"/>
<path d="M424.05,492.63 L427.25,487.63 L420.85,487.63 Z" fill="none" stroke="#ee7f1f" stroke-width="1.15" stroke-linejoin="miter"/>
<path d="M426.37,492.32 L429.57,487.32 L423.17,487.32 Z" fill="none" stroke="#ee7f1f" stroke-width="1.15" stroke-linejoin="miter"/>
<path d="M431.19,492.29 L434.39,487.29 L427.99,487.29 Z" fill="none" stroke="#ee7f1f" stroke-width="1.15" stroke-linejoin="miter"/>
<path d="M429.20,490.25 L432.40,485.25 L426.00,485.25 Z" fill="none" stroke="#ee7f1f" stroke-width="1.15" stroke-linejoin="miter"/>
<path d="M432.88,490.14 L436.08,485.14 L429.68,485.14 Z" fill="none" stroke="#ee7f1f" stroke-width="1.15" stroke-linejoin="miter"/>
<path d="M430.17,488.45 L433.37,483.45 L426.97,483.45 Z" fill="none" stroke="#ee7f1f" stroke-width="1.15" stroke-linejoin="miter"/>
<path d="M430.36,486.81 L433.56,481.81 L427.16,481.81 Z" fill="none" stroke="#ee7f1f" stroke-width="1.15" stroke-linejoin="miter"/>
<path d="M428.51,486.21 L431.71,481.21 L425.31,481.21 Z" fill="none" stroke="#ee7f1f" stroke-width="1.15" stroke-linejoin="miter"/>
<path d="M426.24,485.59 L429.44,480.59 L423.04,480.59 Z" fill="none" stroke="#ee7f1f" stroke-width="1.15" stroke-linejoin="miter"/>
<path d="M429.57,484.64 L432.77,479.64 L426.37,479.64 Z" fill="none" stroke="#ee7f1f" stroke-width="1.15" stroke-linejoin="miter"/>
<path d="M427.22,484.16 L430.42,479.16 L424.02,479.16 Z" fill="none" stroke="#ee7f1f" stroke-width="1.15" stroke-linejoin="miter"/>
<path d="M427.94,478.84 L431.14,473.84 L424.74,473.84 Z" fill="none" stroke="#ee7f1f" stroke-width="1.15" stroke-linejoin="miter"/>
<path d="M427.82,477.12 L431.02,472.12 L424.62,472.12 Z" fill="none" stroke="#ee7f1f" stroke-width="1.15" stroke-linejoin="miter"/>
<path d="M428.52,465.48 L431.72,460.48 L425.32,460.48 Z" fill="none" stroke="#ee7f1f" stroke-width="1.15" stroke-linejoin="miter"/>
<path d="M416.60,522.70 V499.00 H441.00 V522.70" stroke="#ee7f1f" stroke-width="1.8" fill="none"/>
<path d="M466.56,522.88 L469.76,517.88 L463.36,517.88 Z" fill="none" stroke="#4f8fd6" stroke-width="1.15" stroke-linejoin="miter"/>
<path d="M465.89,521.30 L469.09,516.30 L462.69,516.30 Z" fill="none" stroke="#4f8fd6" stroke-width="1.15" stroke-linejoin="miter"/>
<path d="M465.70,520.20 L468.90,515.20 L462.50,515.20 Z" fill="none" stroke="#4f8fd6" stroke-width="1.15" stroke-linejoin="miter"/>
<path d="M463.89,518.61 L467.09,513.61 L460.69,513.61 Z" fill="none" stroke="#4f8fd6" stroke-width="1.15" stroke-linejoin="miter"/>
<path d="M466.90,517.73 L470.10,512.73 L463.70,512.73 Z" fill="none" stroke="#4f8fd6" stroke-width="1.15" stroke-linejoin="miter"/>
<path d="M465.77,517.09 L468.97,512.09 L462.57,512.09 Z" fill="none" stroke="#4f8fd6" stroke-width="1.15" stroke-linejoin="miter"/>
<path d="M463.72,514.87 L466.92,509.87 L460.52,509.87 Z" fill="none" stroke="#4f8fd6" stroke-width="1.15" stroke-linejoin="miter"/>
<path d="M463.19,514.73 L466.39,509.73 L459.99,509.73 Z" fill="none" stroke="#4f8fd6" stroke-width="1.15" stroke-linejoin="miter"/>
<path d="M464.03,514.26 L467.23,509.26 L460.83,509.26 Z" fill="none" stroke="#4f8fd6" stroke-width="1.15" stroke-linejoin="miter"/>
<path d="M468.68,513.97 L471.88,508.97 L465.48,508.97 Z" fill="none" stroke="#4f8fd6" stroke-width="1.15" stroke-linejoin="miter"/>
<path d="M461.79,513.63 L464.99,508.63 L458.59,508.63 Z" fill="none" stroke="#4f8fd6" stroke-width="1.15" stroke-linejoin="miter"/>
<path d="M463.25,513.03 L466.45,508.03 L460.05,508.03 Z" fill="none" stroke="#4f8fd6" stroke-width="1.15" stroke-linejoin="miter"/>
<path d="M463.94,512.31 L467.14,507.31 L460.74,507.31 Z" fill="none" stroke="#4f8fd6" stroke-width="1.15" stroke-linejoin="miter"/>
<path d="M469.88,512.06 L473.08,507.06 L466.68,507.06 Z" fill="none" stroke="#4f8fd6" stroke-width="1.15" stroke-linejoin="miter"/>
<path d="M462.86,511.18 L466.06,506.18 L459.66,506.18 Z" fill="none" stroke="#4f8fd6" stroke-width="1.15" stroke-linejoin="miter"/>
<path d="M461.10,510.80 L464.30,505.80 L457.90,505.80 Z" fill="none" stroke="#4f8fd6" stroke-width="1.15" stroke-linejoin="miter"/>
<path d="M473.77,509.86 L476.97,504.86 L470.57,504.86 Z" fill="none" stroke="#4f8fd6" stroke-width="1.15" stroke-linejoin="miter"/>
<path d="M458.23,509.76 L461.43,504.76 L455.03,504.76 Z" fill="none" stroke="#4f8fd6" stroke-width="1.15" stroke-linejoin="miter"/>
<path d="M465.58,509.74 L468.78,504.74 L462.38,504.74 Z" fill="none" stroke="#4f8fd6" stroke-width="1.15" stroke-linejoin="miter"/>
<path d="M460.90,509.12 L464.10,504.12 L457.70,504.12 Z" fill="none" stroke="#4f8fd6" stroke-width="1.15" stroke-linejoin="miter"/>
<path d="M461.20,509.09 L464.40,504.09 L458.00,504.09 Z" fill="none" stroke="#4f8fd6" stroke-width="1.15" stroke-linejoin="miter"/>
<path d="M459.59,509.03 L462.79,504.03 L456.39,504.03 Z" fill="none" stroke="#4f8fd6" stroke-width="1.15" stroke-linejoin="miter"/>
<path d="M462.61,508.65 L465.81,503.65 L459.41,503.65 Z" fill="none" stroke="#4f8fd6" stroke-width="1.15" stroke-linejoin="miter"/>
<path d="M470.42,508.19 L473.62,503.19 L467.22,503.19 Z" fill="none" stroke="#4f8fd6" stroke-width="1.15" stroke-linejoin="miter"/>
<path d="M459.94,507.93 L463.14,502.93 L456.74,502.93 Z" fill="none" stroke="#4f8fd6" stroke-width="1.15" stroke-linejoin="miter"/>
<path d="M465.64,507.40 L468.84,502.40 L462.44,502.40 Z" fill="none" stroke="#4f8fd6" stroke-width="1.15" stroke-linejoin="miter"/>
<path d="M460.72,506.84 L463.92,501.84 L457.52,501.84 Z" fill="none" stroke="#4f8fd6" stroke-width="1.15" stroke-linejoin="miter"/>
<path d="M462.67,506.73 L465.87,501.73 L459.47,501.73 Z" fill="none" stroke="#4f8fd6" stroke-width="1.15" stroke-linejoin="miter"/>
<path d="M460.32,506.54 L463.52,501.54 L457.12,501.54 Z" fill="none" stroke="#4f8fd6" stroke-width="1.15" stroke-linejoin="miter"/>
<path d="M465.96,506.38 L469.16,501.38 L462.76,501.38 Z" fill="none" stroke="#4f8fd6" stroke-width="1.15" stroke-linejoin="miter"/>
<path d="M465.35,506.28 L468.55,501.28 L462.15,501.28 Z" fill="none" stroke="#4f8fd6" stroke-width="1.15" stroke-linejoin="miter"/>
<path d="M468.82,506.26 L472.02,501.26 L465.62,501.26 Z" fill="none" stroke="#4f8fd6" stroke-width="1.15" stroke-linejoin="miter"/>
<path d="M463.72,505.98 L466.92,500.98 L460.52,500.98 Z" fill="none" stroke="#4f8fd6" stroke-width="1.15" stroke-linejoin="miter"/>
<path d="M464.59,505.44 L467.79,500.44 L461.39,500.44 Z" fill="none" stroke="#4f8fd6" stroke-width="1.15" stroke-linejoin="miter"/>
<path d="M461.29,505.29 L464.49,500.29 L458.09,500.29 Z" fill="none" stroke="#4f8fd6" stroke-width="1.15" stroke-linejoin="miter"/>
<path d="M473.81,504.60 L477.01,499.60 L470.61,499.60 Z" fill="none" stroke="#4f8fd6" stroke-width="1.15" stroke-linejoin="miter"/>
<path d="M470.35,503.82 L473.55,498.82 L467.15,498.82 Z" fill="none" stroke="#4f8fd6" stroke-width="1.15" stroke-linejoin="miter"/>
<path d="M464.36,503.20 L467.56,498.20 L461.16,498.20 Z" fill="none" stroke="#4f8fd6" stroke-width="1.15" stroke-linejoin="miter"/>
<path d="M461.86,502.54 L465.06,497.54 L458.66,497.54 Z" fill="none" stroke="#4f8fd6" stroke-width="1.15" stroke-linejoin="miter"/>
<path d="M463.32,502.52 L466.52,497.52 L460.12,497.52 Z" fill="none" stroke="#4f8fd6" stroke-width="1.15" stroke-linejoin="miter"/>
<path d="M465.39,502.46 L468.59,497.46 L462.19,497.46 Z" fill="none" stroke="#4f8fd6" stroke-width="1.15" stroke-linejoin="miter"/>
<path d="M464.23,502.37 L467.43,497.37 L461.03,497.37 Z" fill="none" stroke="#4f8fd6" stroke-width="1.15" stroke-linejoin="miter"/>
<path d="M466.64,501.64 L469.84,496.64 L463.44,496.64 Z" fill="none" stroke="#4f8fd6" stroke-width="1.15" stroke-linejoin="miter"/>
<path d="M466.42,501.48 L469.62,496.48 L463.22,496.48 Z" fill="none" stroke="#4f8fd6" stroke-width="1.15" stroke-linejoin="miter"/>
<path d="M462.51,501.31 L465.71,496.31 L459.31,496.31 Z" fill="none" stroke="#4f8fd6" stroke-width="1.15" stroke-linejoin="miter"/>
<path d="M470.24,501.28 L473.44,496.28 L467.04,496.28 Z" fill="none" stroke="#4f8fd6" stroke-width="1.15" stroke-linejoin="miter"/>
<path d="M467.57,501.14 L470.77,496.14 L464.37,496.14 Z" fill="none" stroke="#4f8fd6" stroke-width="1.15" stroke-linejoin="miter"/>
<path d="M468.84,500.85 L472.04,495.85 L465.64,495.85 Z" fill="none" stroke="#4f8fd6" stroke-width="1.15" stroke-linejoin="miter"/>
<path d="M469.49,500.64 L472.69,495.64 L466.29,495.64 Z" fill="none" stroke="#4f8fd6" stroke-width="1.15" stroke-linejoin="miter"/>
<path d="M467.12,499.22 L470.32,494.22 L463.92,494.22 Z" fill="none" stroke="#4f8fd6" stroke-width="1.15" stroke-linejoin="miter"/>
<path d="M468.19,499.18 L471.39,494.18 L464.99,494.18 Z" fill="none" stroke="#4f8fd6" stroke-width="1.15" stroke-linejoin="miter"/>
<path d="M460.64,498.51 L463.84,493.51 L457.44,493.51 Z" fill="none" stroke="#4f8fd6" stroke-width="1.15" stroke-linejoin="miter"/>
<path d="M470.16,497.68 L473.36,492.68 L466.96,492.68 Z" fill="none" stroke="#4f8fd6" stroke-width="1.15" stroke-linejoin="miter"/>
<path d="M464.91,497.31 L468.11,492.31 L461.71,492.31 Z" fill="none" stroke="#4f8fd6" stroke-width="1.15" stroke-linejoin="miter"/>
<path d="M464.80,495.75 L468.00,490.75 L461.60,490.75 Z" fill="none" stroke="#4f8fd6" stroke-width="1.15" stroke-linejoin="miter"/>
<path d="M465.45,493.94 L468.65,488.94 L462.25,488.94 Z" fill="none" stroke="#4f8fd6" stroke-width="1.15" stroke-linejoin="miter"/>
<path d="M463.90,493.83 L467.10,488.83 L460.70,488.83 Z" fill="none" stroke="#4f8fd6" stroke-width="1.15" stroke-linejoin="miter"/>
<path d="M464.69,493.05 L467.89,488.05 L461.49,488.05 Z" fill="none" stroke="#4f8fd6" stroke-width="1.15" stroke-linejoin="miter"/>
<path d="M465.96,492.64 L469.16,487.64 L462.76,487.64 Z" fill="none" stroke="#4f8fd6" stroke-width="1.15" stroke-linejoin="miter"/>
<path d="M466.95,492.31 L470.15,487.31 L463.75,487.31 Z" fill="none" stroke="#4f8fd6" stroke-width="1.15" stroke-linejoin="miter"/>
<path d="M466.36,491.95 L469.56,486.95 L463.16,486.95 Z" fill="none" stroke="#4f8fd6" stroke-width="1.15" stroke-linejoin="miter"/>
<path d="M467.39,486.48 L470.59,481.48 L464.19,481.48 Z" fill="none" stroke="#4f8fd6" stroke-width="1.15" stroke-linejoin="miter"/>
<path d="M464.64,485.46 L467.84,480.46 L461.44,480.46 Z" fill="none" stroke="#4f8fd6" stroke-width="1.15" stroke-linejoin="miter"/>
<path d="M466.53,482.84 L469.73,477.84 L463.33,477.84 Z" fill="none" stroke="#4f8fd6" stroke-width="1.15" stroke-linejoin="miter"/>
<path d="M464.73,481.66 L467.93,476.66 L461.53,476.66 Z" fill="none" stroke="#4f8fd6" stroke-width="1.15" stroke-linejoin="miter"/>
<path d="M465.51,481.09 L468.71,476.09 L462.31,476.09 Z" fill="none" stroke="#4f8fd6" stroke-width="1.15" stroke-linejoin="miter"/>
<path d="M465.51,479.70 L468.71,474.70 L462.31,474.70 Z" fill="none" stroke="#4f8fd6" stroke-width="1.15" stroke-linejoin="miter"/>
<path d="M465.61,465.48 L468.81,460.48 L462.41,460.48 Z" fill="none" stroke="#4f8fd6" stroke-width="1.15" stroke-linejoin="miter"/>
<path d="M453.80,522.70 V502.70 H478.20 V522.70" stroke="#4f8fd6" stroke-width="1.8" fill="none"/>
<path d="M500.68,521.24 L503.88,516.24 L497.48,516.24 Z" fill="none" stroke="#8b4fb3" stroke-width="1.15" stroke-linejoin="miter"/>
<path d="M504.35,521.16 L507.55,516.16 L501.15,516.16 Z" fill="none" stroke="#8b4fb3" stroke-width="1.15" stroke-linejoin="miter"/>
<path d="M505.95,519.01 L509.15,514.01 L502.75,514.01 Z" fill="none" stroke="#8b4fb3" stroke-width="1.15" stroke-linejoin="miter"/>
<path d="M503.20,518.78 L506.40,513.78 L500.00,513.78 Z" fill="none" stroke="#8b4fb3" stroke-width="1.15" stroke-linejoin="miter"/>
<path d="M503.27,518.65 L506.47,513.65 L500.07,513.65 Z" fill="none" stroke="#8b4fb3" stroke-width="1.15" stroke-linejoin="miter"/>
<path d="M501.19,518.30 L504.39,513.30 L497.99,513.30 Z" fill="none" stroke="#8b4fb3" stroke-width="1.15" stroke-linejoin="miter"/>
<path d="M501.87,517.91 L505.07,512.91 L498.67,512.91 Z" fill="none" stroke="#8b4fb3" stroke-width="1.15" stroke-linejoin="miter"/>
<path d="M501.62,517.74 L504.82,512.74 L498.42,512.74 Z" fill="none" stroke="#8b4fb3" stroke-width="1.15" stroke-linejoin="miter"/>
<path d="M502.82,517.04 L506.02,512.04 L499.62,512.04 Z" fill="none" stroke="#8b4fb3" stroke-width="1.15" stroke-linejoin="miter"/>
<path d="M507.06,515.08 L510.26,510.08 L503.86,510.08 Z" fill="none" stroke="#8b4fb3" stroke-width="1.15" stroke-linejoin="miter"/>
<path d="M505.26,514.52 L508.46,509.52 L502.06,509.52 Z" fill="none" stroke="#8b4fb3" stroke-width="1.15" stroke-linejoin="miter"/>
<path d="M502.52,514.40 L505.72,509.40 L499.32,509.40 Z" fill="none" stroke="#8b4fb3" stroke-width="1.15" stroke-linejoin="miter"/>
<path d="M500.36,513.64 L503.56,508.64 L497.16,508.64 Z" fill="none" stroke="#8b4fb3" stroke-width="1.15" stroke-linejoin="miter"/>
<path d="M505.72,513.42 L508.92,508.42 L502.52,508.42 Z" fill="none" stroke="#8b4fb3" stroke-width="1.15" stroke-linejoin="miter"/>
<path d="M503.10,513.16 L506.30,508.16 L499.90,508.16 Z" fill="none" stroke="#8b4fb3" stroke-width="1.15" stroke-linejoin="miter"/>
<path d="M505.33,512.30 L508.53,507.30 L502.13,507.30 Z" fill="none" stroke="#8b4fb3" stroke-width="1.15" stroke-linejoin="miter"/>
<path d="M497.56,512.24 L500.76,507.24 L494.36,507.24 Z" fill="none" stroke="#8b4fb3" stroke-width="1.15" stroke-linejoin="miter"/>
<path d="M505.85,511.82 L509.05,506.82 L502.65,506.82 Z" fill="none" stroke="#8b4fb3" stroke-width="1.15" stroke-linejoin="miter"/>
<path d="M500.67,511.11 L503.87,506.11 L497.47,506.11 Z" fill="none" stroke="#8b4fb3" stroke-width="1.15" stroke-linejoin="miter"/>
<path d="M507.67,510.81 L510.87,505.81 L504.47,505.81 Z" fill="none" stroke="#8b4fb3" stroke-width="1.15" stroke-linejoin="miter"/>
<path d="M496.70,510.54 L499.90,505.54 L493.50,505.54 Z" fill="none" stroke="#8b4fb3" stroke-width="1.15" stroke-linejoin="miter"/>
<path d="M502.93,510.42 L506.13,505.42 L499.73,505.42 Z" fill="none" stroke="#8b4fb3" stroke-width="1.15" stroke-linejoin="miter"/>
<path d="M508.76,510.31 L511.96,505.31 L505.56,505.31 Z" fill="none" stroke="#8b4fb3" stroke-width="1.15" stroke-linejoin="miter"/>
<path d="M498.67,509.34 L501.87,504.34 L495.47,504.34 Z" fill="none" stroke="#8b4fb3" stroke-width="1.15" stroke-linejoin="miter"/>
<path d="M495.38,509.06 L498.58,504.06 L492.18,504.06 Z" fill="none" stroke="#8b4fb3" stroke-width="1.15" stroke-linejoin="miter"/>
<path d="M495.33,508.79 L498.53,503.79 L492.13,503.79 Z" fill="none" stroke="#8b4fb3" stroke-width="1.15" stroke-linejoin="miter"/>
<path d="M510.52,508.67 L513.72,503.67 L507.32,503.67 Z" fill="none" stroke="#8b4fb3" stroke-width="1.15" stroke-linejoin="miter"/>
<path d="M507.05,508.26 L510.25,503.26 L503.85,503.26 Z" fill="none" stroke="#8b4fb3" stroke-width="1.15" stroke-linejoin="miter"/>
<path d="M506.72,508.05 L509.92,503.05 L503.52,503.05 Z" fill="none" stroke="#8b4fb3" stroke-width="1.15" stroke-linejoin="miter"/>
<path d="M500.79,508.00 L503.99,503.00 L497.59,503.00 Z" fill="none" stroke="#8b4fb3" stroke-width="1.15" stroke-linejoin="miter"/>
<path d="M496.91,507.66 L500.11,502.66 L493.71,502.66 Z" fill="none" stroke="#8b4fb3" stroke-width="1.15" stroke-linejoin="miter"/>
<path d="M509.16,507.33 L512.36,502.33 L505.96,502.33 Z" fill="none" stroke="#8b4fb3" stroke-width="1.15" stroke-linejoin="miter"/>
<path d="M502.61,507.33 L505.81,502.33 L499.41,502.33 Z" fill="none" stroke="#8b4fb3" stroke-width="1.15" stroke-linejoin="miter"/>
<path d="M507.57,506.45 L510.77,501.45 L504.37,501.45 Z" fill="none" stroke="#8b4fb3" stroke-width="1.15" stroke-linejoin="miter"/>
<path d="M498.85,505.77 L502.05,500.77 L495.65,500.77 Z" fill="none" stroke="#8b4fb3" stroke-width="1.15" stroke-linejoin="miter"/>
<path d="M498.65,505.37 L501.85,500.37 L495.45,500.37 Z" fill="none" stroke="#8b4fb3" stroke-width="1.15" stroke-linejoin="miter"/>
<path d="M509.42,505.31 L512.62,500.31 L506.22,500.31 Z" fill="none" stroke="#8b4fb3" stroke-width="1.15" stroke-linejoin="miter"/>
<path d="M511.09,505.19 L514.29,500.19 L507.89,500.19 Z" fill="none" stroke="#8b4fb3" stroke-width="1.15" stroke-linejoin="miter"/>
<path d="M508.43,504.94 L511.63,499.94 L505.23,499.94 Z" fill="none" stroke="#8b4fb3" stroke-width="1.15" stroke-linejoin="miter"/>
<path d="M507.26,503.50 L510.46,498.50 L504.06,498.50 Z" fill="none" stroke="#8b4fb3" stroke-width="1.15" stroke-linejoin="miter"/>
<path d="M506.22,503.32 L509.42,498.32 L503.02,498.32 Z" fill="none" stroke="#8b4fb3" stroke-width="1.15" stroke-linejoin="miter"/>
<path d="M498.65,503.22 L501.85,498.22 L495.45,498.22 Z" fill="none" stroke="#8b4fb3" stroke-width="1.15" stroke-linejoin="miter"/>
<path d="M500.24,503.18 L503.44,498.18 L497.04,498.18 Z" fill="none" stroke="#8b4fb3" stroke-width="1.15" stroke-linejoin="miter"/>
<path d="M502.42,503.11 L505.62,498.11 L499.22,498.11 Z" fill="none" stroke="#8b4fb3" stroke-width="1.15" stroke-linejoin="miter"/>
<path d="M507.15,502.74 L510.35,497.74 L503.95,497.74 Z" fill="none" stroke="#8b4fb3" stroke-width="1.15" stroke-linejoin="miter"/>
<path d="M496.41,502.04 L499.61,497.04 L493.21,497.04 Z" fill="none" stroke="#8b4fb3" stroke-width="1.15" stroke-linejoin="miter"/>
<path d="M502.13,501.60 L505.33,496.60 L498.93,496.60 Z" fill="none" stroke="#8b4fb3" stroke-width="1.15" stroke-linejoin="miter"/>
<path d="M498.85,500.95 L502.05,495.95 L495.65,495.95 Z" fill="none" stroke="#8b4fb3" stroke-width="1.15" stroke-linejoin="miter"/>
<path d="M506.77,500.22 L509.97,495.22 L503.57,495.22 Z" fill="none" stroke="#8b4fb3" stroke-width="1.15" stroke-linejoin="miter"/>
<path d="M504.72,500.02 L507.92,495.02 L501.52,495.02 Z" fill="none" stroke="#8b4fb3" stroke-width="1.15" stroke-linejoin="miter"/>
<path d="M501.32,498.31 L504.52,493.31 L498.12,493.31 Z" fill="none" stroke="#8b4fb3" stroke-width="1.15" stroke-linejoin="miter"/>
<path d="M502.68,498.18 L505.88,493.18 L499.48,493.18 Z" fill="none" stroke="#8b4fb3" stroke-width="1.15" stroke-linejoin="miter"/>
<path d="M501.61,497.62 L504.81,492.62 L498.41,492.62 Z" fill="none" stroke="#8b4fb3" stroke-width="1.15" stroke-linejoin="miter"/>
<path d="M500.62,496.60 L503.82,491.60 L497.42,491.60 Z" fill="none" stroke="#8b4fb3" stroke-width="1.15" stroke-linejoin="miter"/>
<path d="M501.47,496.53 L504.67,491.53 L498.27,491.53 Z" fill="none" stroke="#8b4fb3" stroke-width="1.15" stroke-linejoin="miter"/>
<path d="M505.10,496.06 L508.30,491.06 L501.90,491.06 Z" fill="none" stroke="#8b4fb3" stroke-width="1.15" stroke-linejoin="miter"/>
<path d="M502.50,495.90 L505.70,490.90 L499.30,490.90 Z" fill="none" stroke="#8b4fb3" stroke-width="1.15" stroke-linejoin="miter"/>
<path d="M498.50,493.04 L501.70,488.04 L495.30,488.04 Z" fill="none" stroke="#8b4fb3" stroke-width="1.15" stroke-linejoin="miter"/>
<path d="M503.73,491.72 L506.93,486.72 L500.53,486.72 Z" fill="none" stroke="#8b4fb3" stroke-width="1.15" stroke-linejoin="miter"/>
<path d="M501.17,491.15 L504.37,486.15 L497.97,486.15 Z" fill="none" stroke="#8b4fb3" stroke-width="1.15" stroke-linejoin="miter"/>
<path d="M505.71,490.97 L508.91,485.97 L502.51,485.97 Z" fill="none" stroke="#8b4fb3" stroke-width="1.15" stroke-linejoin="miter"/>
<path d="M503.23,490.35 L506.43,485.35 L500.03,485.35 Z" fill="none" stroke="#8b4fb3" stroke-width="1.15" stroke-linejoin="miter"/>
<path d="M501.68,490.16 L504.88,485.16 L498.48,485.16 Z" fill="none" stroke="#8b4fb3" stroke-width="1.15" stroke-linejoin="miter"/>
<path d="M505.05,489.03 L508.25,484.03 L501.85,484.03 Z" fill="none" stroke="#8b4fb3" stroke-width="1.15" stroke-linejoin="miter"/>
<path d="M500.48,488.65 L503.68,483.65 L497.28,483.65 Z" fill="none" stroke="#8b4fb3" stroke-width="1.15" stroke-linejoin="miter"/>
<path d="M500.85,488.57 L504.05,483.57 L497.65,483.57 Z" fill="none" stroke="#8b4fb3" stroke-width="1.15" stroke-linejoin="miter"/>
<path d="M501.88,488.17 L505.08,483.17 L498.68,483.17 Z" fill="none" stroke="#8b4fb3" stroke-width="1.15" stroke-linejoin="miter"/>
<path d="M503.53,488.17 L506.73,483.17 L500.33,483.17 Z" fill="none" stroke="#8b4fb3" stroke-width="1.15" stroke-linejoin="miter"/>
<path d="M504.65,484.32 L507.85,479.32 L501.45,479.32 Z" fill="none" stroke="#8b4fb3" stroke-width="1.15" stroke-linejoin="miter"/>
<path d="M500.14,483.92 L503.34,478.92 L496.94,478.92 Z" fill="none" stroke="#8b4fb3" stroke-width="1.15" stroke-linejoin="miter"/>
<path d="M502.05,481.93 L505.25,476.93 L498.85,476.93 Z" fill="none" stroke="#8b4fb3" stroke-width="1.15" stroke-linejoin="miter"/>
<path d="M503.03,481.44 L506.23,476.44 L499.83,476.44 Z" fill="none" stroke="#8b4fb3" stroke-width="1.15" stroke-linejoin="miter"/>
<path d="M502.89,480.48 L506.09,475.48 L499.69,475.48 Z" fill="none" stroke="#8b4fb3" stroke-width="1.15" stroke-linejoin="miter"/>
<path d="M500.88,479.85 L504.08,474.85 L497.68,474.85 Z" fill="none" stroke="#8b4fb3" stroke-width="1.15" stroke-linejoin="miter"/>
<path d="M503.53,471.90 L506.73,466.90 L500.33,466.90 Z" fill="none" stroke="#8b4fb3" stroke-width="1.15" stroke-linejoin="miter"/>
<path d="M503.86,463.96 L507.06,458.96 L500.66,458.96 Z" fill="none" stroke="#8b4fb3" stroke-width="1.15" stroke-linejoin="miter"/>
<path d="M502.99,455.84 L506.19,450.84 L499.79,450.84 Z" fill="none" stroke="#8b4fb3" stroke-width="1.15" stroke-linejoin="miter"/>
<path d="M490.80,522.70 V501.90 H515.20 V522.70" stroke="#8b4fb3" stroke-width="1.8" fill="none"/>
</svg></body></html>
